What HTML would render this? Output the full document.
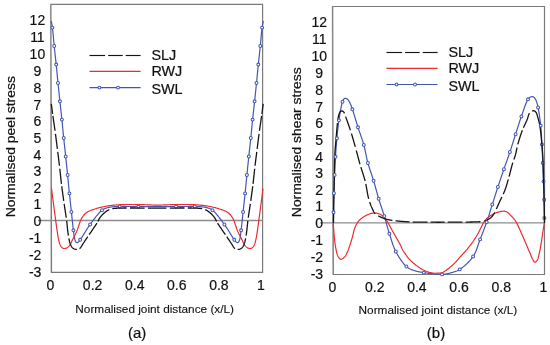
<!DOCTYPE html>
<html lang="en"><head><meta charset="utf-8"><title>Normalised stress distributions</title>
<style>html,body{margin:0;padding:0;background:#fff}body{width:550px;height:345px;overflow:hidden}svg{display:block}</style>
</head><body>
<svg width="550" height="345" viewBox="0 0 550 345">
<rect width="550" height="345" fill="#fff"/>
<path d="M50.9 4.4 L262.6 4.4 L262.6 272.4 L51.5 272.4 Z" fill="none" stroke="#7a7a7a" stroke-width="1.2" stroke-linejoin="miter"/>
<path d="M50.4 4.4 L51.0 272.4" fill="none" stroke="#7a7a7a" stroke-width="0.8" stroke-opacity="0.55"/>
<line x1="38" y1="220.5" x2="262.5" y2="220.5" stroke="#8c8c8c" stroke-width="1.3"/>
<path d="M51.20 21.00 L51.31 21.59 L51.42 22.15 L51.53 22.71 L51.64 23.26 L51.75 23.81 L51.86 24.37 L51.97 24.95 L52.08 25.56 L52.19 26.19 L52.29 26.87 L52.40 27.60 L52.46 28.07 L52.53 28.56 L52.59 29.06 L52.65 29.59 L52.71 30.13 L52.77 30.68 L52.83 31.25 L52.89 31.84 L52.95 32.43 L53.01 33.04 L53.07 33.66 L53.13 34.29 L53.19 34.92 L53.25 35.56 L53.30 36.21 L53.36 36.87 L53.42 37.53 L53.48 38.19 L53.54 38.85 L53.59 39.52 L53.65 40.18 L53.71 40.84 L53.77 41.51 L53.83 42.17 L53.89 42.82 L53.95 43.47 L54.01 44.11 L54.08 44.75 L54.14 45.38 L54.20 46.00 L54.26 46.60 L54.32 47.20 L54.39 47.80 L54.45 48.40 L54.51 49.00 L54.58 49.60 L54.64 50.20 L54.71 50.80 L54.77 51.40 L54.84 52.00 L54.90 52.60 L54.97 53.20 L55.03 53.80 L55.10 54.40 L55.17 55.00 L55.23 55.60 L55.30 56.20 L55.37 56.80 L55.43 57.40 L55.50 58.00 L55.56 58.60 L55.63 59.20 L55.69 59.80 L55.76 60.40 L55.82 61.00 L55.89 61.60 L55.95 62.20 L56.01 62.80 L56.08 63.40 L56.14 64.00 L56.20 64.60 L56.26 65.21 L56.33 65.83 L56.39 66.44 L56.45 67.06 L56.51 67.67 L56.57 68.29 L56.63 68.90 L56.69 69.51 L56.75 70.13 L56.81 70.74 L56.87 71.36 L56.93 71.97 L56.99 72.58 L57.05 73.20 L57.11 73.81 L57.16 74.42 L57.22 75.04 L57.28 75.65 L57.34 76.26 L57.40 76.87 L57.46 77.49 L57.52 78.10 L57.58 78.71 L57.64 79.33 L57.70 79.94 L57.76 80.55 L57.82 81.16 L57.88 81.78 L57.94 82.39 L58.00 83.00 L58.06 83.61 L58.12 84.22 L58.19 84.83 L58.25 85.44 L58.31 86.05 L58.37 86.66 L58.43 87.27 L58.50 87.88 L58.56 88.49 L58.62 89.10 L58.68 89.71 L58.75 90.32 L58.81 90.93 L58.87 91.54 L58.94 92.15 L59.00 92.76 L59.06 93.37 L59.13 93.98 L59.19 94.59 L59.26 95.20 L59.32 95.81 L59.38 96.42 L59.45 97.03 L59.51 97.64 L59.58 98.25 L59.64 98.86 L59.71 99.47 L59.77 100.08 L59.84 100.69 L59.90 101.30 L59.97 101.91 L60.03 102.52 L60.10 103.13 L60.16 103.74 L60.23 104.35 L60.30 104.96 L60.36 105.57 L60.43 106.18 L60.50 106.79 L60.57 107.40 L60.63 108.01 L60.70 108.62 L60.77 109.23 L60.84 109.84 L60.91 110.45 L60.97 111.06 L61.04 111.67 L61.11 112.28 L61.18 112.89 L61.24 113.50 L61.31 114.11 L61.38 114.72 L61.45 115.33 L61.51 115.94 L61.58 116.55 L61.64 117.16 L61.71 117.77 L61.77 118.38 L61.84 118.99 L61.90 119.60 L61.96 120.21 L62.03 120.82 L62.09 121.44 L62.15 122.05 L62.21 122.66 L62.27 123.28 L62.33 123.89 L62.39 124.50 L62.45 125.11 L62.51 125.73 L62.57 126.34 L62.63 126.95 L62.68 127.57 L62.74 128.18 L62.80 128.79 L62.86 129.41 L62.92 130.02 L62.98 130.63 L63.03 131.25 L63.09 131.86 L63.15 132.48 L63.21 133.09 L63.27 133.70 L63.33 134.32 L63.39 134.93 L63.45 135.54 L63.51 136.16 L63.57 136.77 L63.64 137.39 L63.70 138.00 L63.76 138.60 L63.82 139.19 L63.89 139.79 L63.95 140.39 L64.01 140.98 L64.08 141.58 L64.14 142.17 L64.20 142.77 L64.27 143.37 L64.33 143.96 L64.40 144.56 L64.46 145.16 L64.53 145.75 L64.60 146.35 L64.66 146.95 L64.73 147.55 L64.79 148.14 L64.86 148.74 L64.92 149.34 L64.99 149.93 L65.06 150.53 L65.12 151.13 L65.19 151.72 L65.25 152.32 L65.32 152.92 L65.38 153.52 L65.45 154.11 L65.51 154.71 L65.57 155.31 L65.64 155.90 L65.70 156.50 L65.76 157.12 L65.83 157.73 L65.89 158.35 L65.96 158.97 L66.02 159.58 L66.09 160.20 L66.15 160.82 L66.22 161.43 L66.28 162.05 L66.34 162.67 L66.41 163.28 L66.47 163.90 L66.54 164.52 L66.60 165.14 L66.66 165.75 L66.73 166.37 L66.79 166.99 L66.85 167.60 L66.91 168.22 L66.98 168.84 L67.04 169.45 L67.10 170.07 L67.17 170.69 L67.23 171.30 L67.29 171.92 L67.35 172.54 L67.41 173.15 L67.48 173.77 L67.54 174.38 L67.60 175.00 L67.66 175.61 L67.72 176.23 L67.78 176.84 L67.84 177.46 L67.90 178.07 L67.96 178.68 L68.02 179.30 L68.08 179.91 L68.14 180.52 L68.20 181.14 L68.26 181.75 L68.32 182.36 L68.38 182.97 L68.44 183.59 L68.49 184.20 L68.55 184.81 L68.61 185.43 L68.67 186.04 L68.73 186.65 L68.79 187.27 L68.85 187.88 L68.91 188.49 L68.97 189.10 L69.03 189.72 L69.09 190.33 L69.15 190.95 L69.21 191.56 L69.27 192.17 L69.34 192.79 L69.40 193.40 L69.46 194.00 L69.52 194.59 L69.59 195.19 L69.65 195.79 L69.71 196.38 L69.77 196.98 L69.84 197.58 L69.90 198.17 L69.97 198.77 L70.03 199.37 L70.10 199.96 L70.16 200.56 L70.22 201.16 L70.29 201.75 L70.35 202.35 L70.42 202.95 L70.49 203.55 L70.55 204.14 L70.62 204.74 L70.68 205.34 L70.75 205.93 L70.81 206.53 L70.88 207.13 L70.94 207.73 L71.01 208.32 L71.07 208.92 L71.14 209.52 L71.21 210.11 L71.27 210.71 L71.34 211.30 L71.40 211.90 L71.47 212.52 L71.53 213.14 L71.60 213.77 L71.67 214.40 L71.73 215.04 L71.80 215.68 L71.87 216.33 L71.93 216.98 L72.00 217.62 L72.07 218.27 L72.13 218.92 L72.20 219.57 L72.27 220.21 L72.33 220.86 L72.40 221.50 L72.47 222.14 L72.54 222.77 L72.60 223.40 L72.67 224.02 L72.74 224.64 L72.80 225.25 L72.87 225.85 L72.94 226.44 L73.00 227.03 L73.07 227.60 L73.13 228.16 L73.20 228.72 L73.27 229.26 L73.33 229.79 L73.40 230.30 L73.49 231.02 L73.57 231.73 L73.65 232.43 L73.73 233.12 L73.81 233.79 L73.88 234.46 L73.96 235.10 L74.04 235.73 L74.12 236.34 L74.21 236.93 L74.31 237.50 L74.41 238.04 L74.53 238.56 L74.66 239.04 L74.80 239.50 L75.09 240.32 L75.39 241.10 L75.73 241.78 L76.09 242.30 L76.50 242.60 L77.07 242.62 L77.70 242.37 L78.30 242.00 L78.77 241.62 L79.20 241.14 L79.65 240.54 L80.20 239.80 L80.41 239.51 L80.64 239.18 L80.88 238.83 L81.14 238.45 L81.40 238.05 L81.68 237.62 L81.97 237.17 L82.26 236.69 L82.57 236.20 L82.89 235.69 L83.21 235.17 L83.54 234.63 L83.88 234.08 L84.22 233.52 L84.57 232.95 L84.93 232.38 L85.29 231.80 L85.65 231.21 L86.02 230.62 L86.39 230.03 L86.76 229.45 L87.13 228.86 L87.51 228.28 L87.88 227.71 L88.26 227.15 L88.63 226.59 L89.00 226.05 L89.37 225.52 L89.74 225.00 L90.10 224.50 L90.46 224.01 L90.82 223.52 L91.19 223.02 L91.56 222.51 L91.94 221.99 L92.32 221.47 L92.70 220.95 L93.09 220.42 L93.48 219.89 L93.88 219.36 L94.27 218.83 L94.67 218.31 L95.07 217.79 L95.47 217.27 L95.87 216.75 L96.27 216.25 L96.67 215.75 L97.07 215.26 L97.47 214.78 L97.86 214.31 L98.26 213.85 L98.65 213.41 L99.04 212.98 L99.43 212.56 L99.81 212.17 L100.19 211.79 L100.56 211.43 L100.93 211.09 L101.29 210.77 L101.65 210.47 L102.00 210.20 L102.63 209.75 L103.26 209.37 L103.87 209.04 L104.47 208.76 L105.07 208.51 L105.66 208.30 L106.25 208.11 L106.83 207.93 L107.42 207.77 L108.00 207.60 L108.63 207.43 L109.25 207.29 L109.86 207.18 L110.47 207.08 L111.08 207.00 L111.70 206.93 L112.34 206.87 L113.00 206.80 L113.56 206.75 L114.11 206.70 L114.66 206.66 L115.22 206.63 L115.79 206.60 L116.37 206.58 L116.97 206.56 L117.60 206.54 L118.26 206.53 L118.96 206.51 L119.70 206.50 L120.16 206.49 L120.64 206.49 L121.14 206.48 L121.66 206.48 L122.19 206.47 L122.74 206.47 L123.30 206.47 L123.88 206.47 L124.46 206.47 L125.06 206.48 L125.67 206.48 L126.29 206.48 L126.91 206.49 L127.55 206.49 L128.19 206.50 L128.83 206.51 L129.48 206.51 L130.13 206.52 L130.79 206.53 L131.45 206.53 L132.10 206.54 L132.76 206.55 L133.42 206.56 L134.07 206.56 L134.72 206.57 L135.37 206.58 L136.01 206.58 L136.64 206.59 L137.27 206.59 L137.89 206.60 L138.50 206.60 L139.11 206.60 L139.71 206.61 L140.32 206.61 L140.92 206.61 L141.53 206.62 L142.13 206.62 L142.74 206.63 L143.34 206.63 L143.95 206.64 L144.55 206.64 L145.16 206.64 L145.76 206.65 L146.36 206.65 L146.97 206.66 L147.57 206.66 L148.18 206.66 L148.78 206.67 L149.39 206.67 L149.99 206.68 L150.60 206.68 L151.20 206.68 L151.81 206.69 L152.41 206.69 L153.02 206.69 L153.62 206.69 L154.23 206.70 L154.83 206.70 L155.44 206.70 L156.04 206.70 L156.65 206.70 L157.25 206.70 L157.85 206.70 L158.46 206.70 L159.06 206.70 L159.67 206.70 L160.27 206.70 L160.88 206.69 L161.48 206.69 L162.09 206.69 L162.69 206.69 L163.30 206.68 L163.90 206.68 L164.51 206.68 L165.11 206.67 L165.72 206.67 L166.32 206.66 L166.93 206.66 L167.53 206.66 L168.14 206.65 L168.74 206.65 L169.34 206.64 L169.95 206.64 L170.55 206.64 L171.16 206.63 L171.76 206.63 L172.37 206.62 L172.97 206.62 L173.58 206.61 L174.18 206.61 L174.79 206.61 L175.39 206.60 L176.00 206.60 L176.61 206.60 L177.23 206.59 L177.86 206.59 L178.49 206.58 L179.13 206.58 L179.78 206.57 L180.43 206.56 L181.08 206.56 L181.74 206.55 L182.40 206.54 L183.05 206.53 L183.71 206.53 L184.37 206.52 L185.02 206.51 L185.67 206.51 L186.31 206.50 L186.95 206.49 L187.59 206.49 L188.21 206.48 L188.83 206.48 L189.44 206.48 L190.04 206.47 L190.62 206.47 L191.20 206.47 L191.76 206.47 L192.31 206.47 L192.84 206.48 L193.36 206.48 L193.86 206.49 L194.34 206.49 L194.80 206.50 L195.54 206.51 L196.24 206.53 L196.90 206.54 L197.53 206.56 L198.13 206.58 L198.71 206.60 L199.28 206.63 L199.84 206.66 L200.39 206.70 L200.94 206.75 L201.50 206.80 L202.16 206.87 L202.80 206.93 L203.42 207.00 L204.03 207.08 L204.64 207.18 L205.25 207.29 L205.87 207.43 L206.50 207.60 L207.08 207.77 L207.67 207.93 L208.25 208.11 L208.84 208.30 L209.43 208.51 L210.03 208.76 L210.63 209.04 L211.24 209.37 L211.87 209.75 L212.50 210.20 L212.85 210.47 L213.21 210.77 L213.57 211.09 L213.94 211.43 L214.31 211.79 L214.69 212.17 L215.07 212.56 L215.46 212.98 L215.85 213.41 L216.24 213.85 L216.64 214.31 L217.03 214.78 L217.43 215.26 L217.83 215.75 L218.23 216.25 L218.63 216.75 L219.03 217.27 L219.43 217.79 L219.83 218.31 L220.23 218.83 L220.62 219.36 L221.02 219.89 L221.41 220.42 L221.80 220.95 L222.18 221.47 L222.56 221.99 L222.94 222.51 L223.31 223.02 L223.68 223.52 L224.04 224.01 L224.40 224.50 L224.76 225.00 L225.13 225.52 L225.50 226.05 L225.87 226.59 L226.24 227.15 L226.62 227.71 L226.99 228.28 L227.37 228.86 L227.74 229.45 L228.11 230.03 L228.48 230.62 L228.85 231.21 L229.21 231.80 L229.57 232.38 L229.93 232.95 L230.28 233.52 L230.62 234.08 L230.96 234.63 L231.29 235.17 L231.61 235.69 L231.93 236.20 L232.24 236.69 L232.53 237.17 L232.82 237.62 L233.10 238.05 L233.36 238.45 L233.62 238.83 L233.86 239.18 L234.09 239.51 L234.30 239.80 L234.85 240.54 L235.30 241.14 L235.73 241.62 L236.20 242.00 L236.80 242.37 L237.43 242.62 L238.00 242.60 L238.41 242.30 L238.77 241.78 L239.11 241.10 L239.41 240.32 L239.70 239.50 L239.84 239.04 L239.97 238.56 L240.09 238.04 L240.19 237.50 L240.29 236.93 L240.38 236.34 L240.46 235.73 L240.54 235.10 L240.62 234.46 L240.69 233.79 L240.77 233.12 L240.85 232.43 L240.93 231.73 L241.01 231.02 L241.10 230.30 L241.17 229.79 L241.23 229.26 L241.30 228.72 L241.37 228.16 L241.43 227.60 L241.50 227.03 L241.56 226.44 L241.63 225.85 L241.70 225.25 L241.76 224.64 L241.83 224.02 L241.90 223.40 L241.96 222.77 L242.03 222.14 L242.10 221.50 L242.17 220.86 L242.23 220.21 L242.30 219.57 L242.37 218.92 L242.43 218.27 L242.50 217.62 L242.57 216.98 L242.63 216.33 L242.70 215.68 L242.77 215.04 L242.83 214.40 L242.90 213.77 L242.97 213.14 L243.03 212.52 L243.10 211.90 L243.16 211.30 L243.23 210.71 L243.29 210.11 L243.36 209.52 L243.43 208.92 L243.49 208.32 L243.56 207.73 L243.62 207.13 L243.69 206.53 L243.75 205.93 L243.82 205.34 L243.88 204.74 L243.95 204.14 L244.01 203.55 L244.08 202.95 L244.15 202.35 L244.21 201.75 L244.28 201.16 L244.34 200.56 L244.40 199.96 L244.47 199.37 L244.53 198.77 L244.60 198.17 L244.66 197.58 L244.73 196.98 L244.79 196.38 L244.85 195.79 L244.91 195.19 L244.98 194.59 L245.04 194.00 L245.10 193.40 L245.16 192.79 L245.23 192.17 L245.29 191.56 L245.35 190.95 L245.41 190.33 L245.47 189.72 L245.53 189.10 L245.59 188.49 L245.65 187.88 L245.71 187.27 L245.77 186.65 L245.83 186.04 L245.89 185.43 L245.95 184.81 L246.01 184.20 L246.06 183.59 L246.12 182.97 L246.18 182.36 L246.24 181.75 L246.30 181.14 L246.36 180.52 L246.42 179.91 L246.48 179.30 L246.54 178.68 L246.60 178.07 L246.66 177.46 L246.72 176.84 L246.78 176.23 L246.84 175.61 L246.90 175.00 L246.96 174.38 L247.02 173.77 L247.09 173.15 L247.15 172.54 L247.21 171.92 L247.27 171.30 L247.33 170.69 L247.40 170.07 L247.46 169.45 L247.52 168.84 L247.59 168.22 L247.65 167.60 L247.71 166.99 L247.77 166.37 L247.84 165.75 L247.90 165.14 L247.96 164.52 L248.03 163.90 L248.09 163.28 L248.16 162.67 L248.22 162.05 L248.28 161.43 L248.35 160.82 L248.41 160.20 L248.48 159.58 L248.54 158.97 L248.61 158.35 L248.67 157.73 L248.74 157.12 L248.80 156.50 L248.86 155.90 L248.93 155.31 L248.99 154.71 L249.05 154.11 L249.12 153.52 L249.18 152.92 L249.25 152.32 L249.31 151.72 L249.38 151.13 L249.44 150.53 L249.51 149.93 L249.58 149.34 L249.64 148.74 L249.71 148.14 L249.77 147.55 L249.84 146.95 L249.90 146.35 L249.97 145.75 L250.04 145.16 L250.10 144.56 L250.17 143.96 L250.23 143.37 L250.30 142.77 L250.36 142.17 L250.42 141.58 L250.49 140.98 L250.55 140.39 L250.61 139.79 L250.68 139.19 L250.74 138.60 L250.80 138.00 L250.86 137.39 L250.93 136.77 L250.99 136.16 L251.05 135.54 L251.11 134.93 L251.17 134.32 L251.23 133.70 L251.29 133.09 L251.35 132.48 L251.41 131.86 L251.47 131.25 L251.52 130.63 L251.58 130.02 L251.64 129.41 L251.70 128.79 L251.76 128.18 L251.82 127.57 L251.87 126.95 L251.93 126.34 L251.99 125.73 L252.05 125.11 L252.11 124.50 L252.17 123.89 L252.23 123.28 L252.29 122.66 L252.35 122.05 L252.41 121.44 L252.47 120.82 L252.54 120.21 L252.60 119.60 L252.66 118.99 L252.73 118.38 L252.79 117.77 L252.86 117.16 L252.92 116.55 L252.99 115.94 L253.05 115.33 L253.12 114.72 L253.19 114.11 L253.26 113.50 L253.32 112.89 L253.39 112.28 L253.46 111.67 L253.53 111.06 L253.59 110.45 L253.66 109.84 L253.73 109.23 L253.80 108.62 L253.87 108.01 L253.93 107.40 L254.00 106.79 L254.07 106.18 L254.14 105.57 L254.20 104.96 L254.27 104.35 L254.34 103.74 L254.40 103.13 L254.47 102.52 L254.53 101.91 L254.60 101.30 L254.66 100.69 L254.73 100.08 L254.79 99.47 L254.86 98.86 L254.92 98.25 L254.99 97.64 L255.05 97.03 L255.12 96.42 L255.18 95.81 L255.24 95.20 L255.31 94.59 L255.37 93.98 L255.44 93.37 L255.50 92.76 L255.56 92.15 L255.63 91.54 L255.69 90.93 L255.75 90.32 L255.82 89.71 L255.88 89.10 L255.94 88.49 L256.00 87.88 L256.07 87.27 L256.13 86.66 L256.19 86.05 L256.25 85.44 L256.31 84.83 L256.38 84.22 L256.44 83.61 L256.50 83.00 L256.56 82.39 L256.62 81.78 L256.68 81.16 L256.74 80.55 L256.80 79.94 L256.86 79.33 L256.92 78.71 L256.98 78.10 L257.04 77.49 L257.10 76.87 L257.16 76.26 L257.22 75.65 L257.28 75.04 L257.34 74.42 L257.39 73.81 L257.45 73.20 L257.51 72.58 L257.57 71.97 L257.63 71.36 L257.69 70.74 L257.75 70.13 L257.81 69.51 L257.87 68.90 L257.93 68.29 L257.99 67.67 L258.05 67.06 L258.11 66.44 L258.17 65.83 L258.24 65.21 L258.30 64.60 L258.36 64.00 L258.42 63.40 L258.49 62.80 L258.55 62.20 L258.61 61.60 L258.68 61.00 L258.74 60.40 L258.81 59.80 L258.87 59.20 L258.94 58.60 L259.00 58.00 L259.07 57.40 L259.13 56.80 L259.20 56.20 L259.27 55.60 L259.33 55.00 L259.40 54.40 L259.47 53.80 L259.53 53.20 L259.60 52.60 L259.66 52.00 L259.73 51.40 L259.79 50.80 L259.86 50.20 L259.92 49.60 L259.99 49.00 L260.05 48.40 L260.11 47.80 L260.18 47.20 L260.24 46.60 L260.30 46.00 L260.36 45.38 L260.42 44.75 L260.49 44.11 L260.55 43.47 L260.61 42.82 L260.67 42.17 L260.73 41.51 L260.79 40.84 L260.85 40.18 L260.91 39.52 L260.96 38.85 L261.02 38.19 L261.08 37.53 L261.14 36.87 L261.20 36.21 L261.25 35.56 L261.31 34.92 L261.37 34.29 L261.43 33.66 L261.49 33.04 L261.55 32.43 L261.61 31.84 L261.67 31.25 L261.73 30.68 L261.79 30.13 L261.85 29.59 L261.91 29.06 L261.97 28.56 L262.04 28.07 L262.10 27.60 L262.21 26.87 L262.31 26.19 L262.42 25.56 L262.53 24.95 L262.64 24.37 L262.75 23.81 L262.86 23.26 L262.97 22.71 L263.08 22.15 L263.19 21.59 L263.30 21.00" fill="none" stroke="#4257b2" stroke-width="1.2" stroke-linejoin="round"/>
<circle cx="52.4" cy="27.6" r="1.45" fill="#fff" stroke="#4257b2" stroke-width="1.05"/>
<circle cx="54.2" cy="46.0" r="1.45" fill="#fff" stroke="#4257b2" stroke-width="1.05"/>
<circle cx="56.2" cy="64.6" r="1.45" fill="#fff" stroke="#4257b2" stroke-width="1.05"/>
<circle cx="58.0" cy="83.0" r="1.45" fill="#fff" stroke="#4257b2" stroke-width="1.05"/>
<circle cx="59.9" cy="101.3" r="1.45" fill="#fff" stroke="#4257b2" stroke-width="1.05"/>
<circle cx="61.9" cy="119.6" r="1.45" fill="#fff" stroke="#4257b2" stroke-width="1.05"/>
<circle cx="63.7" cy="138.0" r="1.45" fill="#fff" stroke="#4257b2" stroke-width="1.05"/>
<circle cx="65.7" cy="156.5" r="1.45" fill="#fff" stroke="#4257b2" stroke-width="1.05"/>
<circle cx="67.6" cy="175.0" r="1.45" fill="#fff" stroke="#4257b2" stroke-width="1.05"/>
<circle cx="69.4" cy="193.4" r="1.45" fill="#fff" stroke="#4257b2" stroke-width="1.05"/>
<circle cx="71.4" cy="211.9" r="1.45" fill="#fff" stroke="#4257b2" stroke-width="1.05"/>
<circle cx="73.4" cy="230.3" r="1.45" fill="#fff" stroke="#4257b2" stroke-width="1.05"/>
<circle cx="80.2" cy="239.8" r="1.45" fill="#fff" stroke="#4257b2" stroke-width="1.05"/>
<circle cx="90.1" cy="224.5" r="1.45" fill="#fff" stroke="#4257b2" stroke-width="1.05"/>
<circle cx="102.0" cy="210.2" r="1.45" fill="#fff" stroke="#4257b2" stroke-width="1.05"/>
<circle cx="119.7" cy="206.5" r="1.45" fill="#fff" stroke="#4257b2" stroke-width="1.05"/>
<circle cx="138.5" cy="206.6" r="1.45" fill="#fff" stroke="#4257b2" stroke-width="1.05"/>
<circle cx="176.0" cy="206.6" r="1.45" fill="#fff" stroke="#4257b2" stroke-width="1.05"/>
<circle cx="194.8" cy="206.5" r="1.45" fill="#fff" stroke="#4257b2" stroke-width="1.05"/>
<circle cx="212.5" cy="210.2" r="1.45" fill="#fff" stroke="#4257b2" stroke-width="1.05"/>
<circle cx="224.4" cy="224.5" r="1.45" fill="#fff" stroke="#4257b2" stroke-width="1.05"/>
<circle cx="234.3" cy="239.8" r="1.45" fill="#fff" stroke="#4257b2" stroke-width="1.05"/>
<circle cx="241.1" cy="230.3" r="1.45" fill="#fff" stroke="#4257b2" stroke-width="1.05"/>
<circle cx="243.1" cy="211.9" r="1.45" fill="#fff" stroke="#4257b2" stroke-width="1.05"/>
<circle cx="245.1" cy="193.4" r="1.45" fill="#fff" stroke="#4257b2" stroke-width="1.05"/>
<circle cx="246.9" cy="175.0" r="1.45" fill="#fff" stroke="#4257b2" stroke-width="1.05"/>
<circle cx="248.8" cy="156.5" r="1.45" fill="#fff" stroke="#4257b2" stroke-width="1.05"/>
<circle cx="250.8" cy="138.0" r="1.45" fill="#fff" stroke="#4257b2" stroke-width="1.05"/>
<circle cx="252.6" cy="119.6" r="1.45" fill="#fff" stroke="#4257b2" stroke-width="1.05"/>
<circle cx="254.6" cy="101.3" r="1.45" fill="#fff" stroke="#4257b2" stroke-width="1.05"/>
<circle cx="256.5" cy="83.0" r="1.45" fill="#fff" stroke="#4257b2" stroke-width="1.05"/>
<circle cx="258.3" cy="64.6" r="1.45" fill="#fff" stroke="#4257b2" stroke-width="1.05"/>
<circle cx="260.3" cy="46.0" r="1.45" fill="#fff" stroke="#4257b2" stroke-width="1.05"/>
<circle cx="262.1" cy="27.6" r="1.45" fill="#fff" stroke="#4257b2" stroke-width="1.05"/>
<path d="M51.50 188.60 L51.58 189.22 L51.66 189.83 L51.74 190.45 L51.82 191.07 L51.90 191.68 L51.98 192.30 L52.06 192.92 L52.14 193.54 L52.22 194.15 L52.30 194.77 L52.38 195.39 L52.46 196.00 L52.54 196.62 L52.62 197.24 L52.70 197.85 L52.78 198.47 L52.86 199.09 L52.94 199.70 L53.02 200.32 L53.10 200.93 L53.18 201.55 L53.26 202.16 L53.34 202.77 L53.42 203.39 L53.50 204.00 L53.58 204.61 L53.66 205.21 L53.74 205.82 L53.82 206.44 L53.90 207.05 L53.98 207.66 L54.07 208.28 L54.15 208.90 L54.23 209.51 L54.31 210.13 L54.39 210.74 L54.47 211.35 L54.56 211.96 L54.64 212.57 L54.72 213.18 L54.80 213.78 L54.88 214.38 L54.96 214.97 L55.04 215.57 L55.12 216.15 L55.19 216.73 L55.27 217.31 L55.35 217.88 L55.42 218.44 L55.50 219.00 L55.59 219.65 L55.67 220.30 L55.76 220.95 L55.84 221.58 L55.93 222.21 L56.01 222.83 L56.09 223.45 L56.17 224.07 L56.25 224.68 L56.33 225.28 L56.41 225.88 L56.50 226.48 L56.58 227.07 L56.66 227.66 L56.74 228.25 L56.83 228.84 L56.91 229.42 L57.00 230.00 L57.09 230.63 L57.19 231.26 L57.28 231.89 L57.37 232.52 L57.47 233.14 L57.56 233.76 L57.66 234.37 L57.75 234.98 L57.85 235.58 L57.95 236.18 L58.05 236.76 L58.16 237.34 L58.27 237.90 L58.38 238.46 L58.50 239.00 L58.65 239.66 L58.79 240.32 L58.94 240.98 L59.09 241.62 L59.25 242.24 L59.41 242.85 L59.58 243.43 L59.77 243.99 L59.98 244.51 L60.20 245.00 L60.56 245.69 L60.95 246.33 L61.36 246.90 L61.81 247.40 L62.30 247.80 L62.88 248.12 L63.51 248.35 L64.16 248.48 L64.80 248.50 L65.48 248.40 L66.18 248.19 L66.86 247.88 L67.50 247.50 L68.02 247.11 L68.52 246.67 L69.00 246.16 L69.45 245.60 L69.90 245.00 L70.20 244.53 L70.50 244.03 L70.78 243.48 L71.05 242.92 L71.32 242.33 L71.58 241.74 L71.85 241.15 L72.12 240.57 L72.40 240.00 L72.69 239.44 L72.98 238.89 L73.27 238.33 L73.56 237.78 L73.86 237.23 L74.15 236.67 L74.44 236.11 L74.72 235.56 L75.00 235.00 L75.27 234.45 L75.54 233.89 L75.81 233.34 L76.07 232.79 L76.33 232.23 L76.59 231.68 L76.83 231.12 L77.07 230.56 L77.30 230.00 L77.54 229.38 L77.76 228.76 L77.97 228.13 L78.18 227.51 L78.38 226.88 L78.58 226.25 L78.79 225.62 L79.00 225.00 L79.21 224.37 L79.42 223.74 L79.62 223.11 L79.82 222.48 L80.03 221.86 L80.26 221.23 L80.52 220.61 L80.80 220.00 L81.09 219.42 L81.41 218.83 L81.75 218.24 L82.10 217.65 L82.47 217.08 L82.85 216.52 L83.23 215.98 L83.62 215.47 L84.00 215.00 L84.48 214.46 L84.97 213.97 L85.46 213.51 L85.97 213.08 L86.48 212.68 L87.00 212.30 L87.57 211.92 L88.14 211.59 L88.72 211.28 L89.34 210.99 L90.00 210.70 L90.56 210.47 L91.15 210.25 L91.77 210.03 L92.41 209.82 L93.06 209.61 L93.72 209.40 L94.36 209.20 L95.00 209.00 L95.61 208.80 L96.21 208.61 L96.79 208.42 L97.39 208.23 L97.99 208.05 L98.62 207.86 L99.29 207.68 L100.00 207.50 L100.53 207.37 L101.08 207.24 L101.66 207.12 L102.25 206.99 L102.86 206.86 L103.49 206.73 L104.13 206.60 L104.78 206.47 L105.43 206.35 L106.09 206.23 L106.75 206.11 L107.41 206.00 L108.07 205.89 L108.72 205.79 L109.37 205.69 L110.00 205.60 L110.62 205.52 L111.25 205.44 L111.87 205.36 L112.49 205.29 L113.12 205.22 L113.74 205.16 L114.37 205.10 L114.99 205.04 L115.62 204.99 L116.25 204.94 L116.87 204.90 L117.50 204.85 L118.12 204.81 L118.75 204.77 L119.37 204.74 L120.00 204.70 L120.62 204.67 L121.25 204.64 L121.87 204.62 L122.50 204.59 L123.12 204.58 L123.75 204.56 L124.37 204.55 L125.00 204.54 L125.62 204.53 L126.25 204.52 L126.87 204.52 L127.50 204.51 L128.12 204.51 L128.75 204.51 L129.37 204.50 L130.00 204.50 L130.62 204.50 L131.25 204.50 L131.87 204.50 L132.50 204.50 L133.13 204.50 L133.75 204.51 L134.38 204.51 L135.00 204.52 L135.63 204.53 L136.25 204.53 L136.88 204.54 L137.50 204.55 L138.13 204.56 L138.75 204.58 L139.38 204.59 L140.00 204.60 L140.63 204.61 L141.26 204.63 L141.90 204.64 L142.54 204.66 L143.18 204.68 L143.82 204.70 L144.46 204.71 L145.10 204.73 L145.74 204.75 L146.37 204.77 L146.99 204.80 L147.61 204.82 L148.22 204.84 L148.83 204.86 L149.42 204.88 L150.00 204.90 L150.64 204.93 L151.28 204.95 L151.89 204.99 L152.50 205.02 L153.10 205.05 L153.70 205.08 L154.29 205.12 L154.88 205.14 L155.46 205.17 L156.06 205.18 L156.65 205.20 L157.25 205.20 L157.85 205.20 L158.44 205.18 L159.04 205.17 L159.62 205.14 L160.21 205.12 L160.80 205.08 L161.40 205.05 L162.00 205.02 L162.61 204.99 L163.22 204.95 L163.86 204.93 L164.50 204.90 L165.08 204.88 L165.67 204.86 L166.28 204.84 L166.89 204.82 L167.51 204.80 L168.13 204.77 L168.76 204.75 L169.40 204.73 L170.04 204.71 L170.68 204.70 L171.32 204.68 L171.96 204.66 L172.60 204.64 L173.24 204.63 L173.87 204.61 L174.50 204.60 L175.12 204.59 L175.75 204.58 L176.37 204.56 L177.00 204.55 L177.62 204.54 L178.25 204.53 L178.87 204.53 L179.50 204.52 L180.12 204.51 L180.75 204.51 L181.37 204.50 L182.00 204.50 L182.63 204.50 L183.25 204.50 L183.88 204.50 L184.50 204.50 L185.13 204.50 L185.75 204.51 L186.38 204.51 L187.00 204.51 L187.63 204.52 L188.25 204.52 L188.88 204.53 L189.50 204.54 L190.13 204.55 L190.75 204.56 L191.38 204.58 L192.00 204.59 L192.63 204.62 L193.25 204.64 L193.88 204.67 L194.50 204.70 L195.13 204.74 L195.75 204.77 L196.38 204.81 L197.00 204.85 L197.63 204.90 L198.25 204.94 L198.88 204.99 L199.51 205.04 L200.13 205.10 L200.76 205.16 L201.38 205.22 L202.01 205.29 L202.63 205.36 L203.25 205.44 L203.88 205.52 L204.50 205.60 L205.13 205.69 L205.78 205.79 L206.43 205.89 L207.09 206.00 L207.75 206.11 L208.41 206.23 L209.07 206.35 L209.72 206.47 L210.37 206.60 L211.01 206.73 L211.64 206.86 L212.25 206.99 L212.84 207.12 L213.42 207.24 L213.97 207.37 L214.50 207.50 L215.21 207.68 L215.88 207.86 L216.51 208.05 L217.11 208.23 L217.71 208.42 L218.29 208.61 L218.89 208.80 L219.50 209.00 L220.14 209.20 L220.78 209.40 L221.44 209.61 L222.09 209.82 L222.73 210.03 L223.35 210.25 L223.94 210.47 L224.50 210.70 L225.16 210.99 L225.78 211.28 L226.36 211.59 L226.93 211.92 L227.50 212.30 L228.02 212.68 L228.53 213.08 L229.04 213.51 L229.53 213.97 L230.02 214.46 L230.50 215.00 L230.88 215.47 L231.27 215.98 L231.65 216.52 L232.03 217.08 L232.40 217.65 L232.75 218.24 L233.09 218.83 L233.41 219.42 L233.70 220.00 L233.98 220.61 L234.24 221.23 L234.47 221.86 L234.68 222.48 L234.88 223.11 L235.08 223.74 L235.29 224.37 L235.50 225.00 L235.71 225.62 L235.92 226.25 L236.12 226.88 L236.32 227.51 L236.53 228.13 L236.74 228.76 L236.96 229.38 L237.20 230.00 L237.43 230.56 L237.67 231.12 L237.91 231.68 L238.17 232.23 L238.43 232.79 L238.69 233.34 L238.96 233.89 L239.23 234.45 L239.50 235.00 L239.78 235.56 L240.06 236.11 L240.35 236.67 L240.64 237.23 L240.94 237.78 L241.23 238.33 L241.52 238.89 L241.81 239.44 L242.10 240.00 L242.38 240.57 L242.65 241.15 L242.92 241.74 L243.18 242.33 L243.45 242.92 L243.72 243.48 L244.00 244.03 L244.30 244.53 L244.60 245.00 L245.05 245.60 L245.50 246.16 L245.98 246.67 L246.48 247.11 L247.00 247.50 L247.64 247.88 L248.32 248.19 L249.02 248.40 L249.70 248.50 L250.34 248.48 L250.99 248.35 L251.62 248.12 L252.20 247.80 L252.69 247.40 L253.14 246.90 L253.55 246.33 L253.94 245.69 L254.30 245.00 L254.52 244.51 L254.73 243.99 L254.92 243.43 L255.09 242.85 L255.25 242.24 L255.41 241.62 L255.56 240.98 L255.71 240.32 L255.85 239.66 L256.00 239.00 L256.12 238.46 L256.23 237.90 L256.34 237.34 L256.45 236.76 L256.55 236.18 L256.65 235.58 L256.75 234.98 L256.84 234.37 L256.94 233.76 L257.03 233.14 L257.13 232.52 L257.22 231.89 L257.31 231.26 L257.41 230.63 L257.50 230.00 L257.59 229.42 L257.67 228.84 L257.76 228.25 L257.84 227.66 L257.92 227.07 L258.00 226.48 L258.09 225.88 L258.17 225.28 L258.25 224.68 L258.33 224.07 L258.41 223.45 L258.49 222.83 L258.57 222.21 L258.66 221.58 L258.74 220.95 L258.83 220.30 L258.91 219.65 L259.00 219.00 L259.08 218.44 L259.15 217.88 L259.23 217.31 L259.31 216.73 L259.38 216.15 L259.46 215.57 L259.54 214.97 L259.62 214.38 L259.70 213.78 L259.78 213.18 L259.86 212.57 L259.94 211.96 L260.03 211.35 L260.11 210.74 L260.19 210.13 L260.27 209.51 L260.35 208.90 L260.43 208.28 L260.52 207.66 L260.60 207.05 L260.68 206.44 L260.76 205.82 L260.84 205.21 L260.92 204.61 L261.00 204.00 L261.08 203.39 L261.16 202.77 L261.24 202.16 L261.32 201.55 L261.40 200.93 L261.48 200.32 L261.56 199.70 L261.64 199.09 L261.72 198.47 L261.80 197.85 L261.88 197.24 L261.96 196.62 L262.04 196.00 L262.12 195.39 L262.20 194.77 L262.28 194.15 L262.36 193.54 L262.44 192.92 L262.52 192.30 L262.60 191.68 L262.68 191.07 L262.76 190.45 L262.84 189.83 L262.92 189.22 L263.00 188.60" fill="none" stroke="#ee2a30" stroke-width="1.2" stroke-linejoin="round"/>
<path d="M51.30 103.90 L51.38 104.51 L51.46 105.12 L51.54 105.71 L51.61 106.31 L51.69 106.89 L51.76 107.48 L51.84 108.07 L51.92 108.66 L52.00 109.26 L52.07 109.87 L52.16 110.49 L52.24 111.12 L52.32 111.76 L52.41 112.42 L52.50 113.10 L52.60 113.80 M52.90 115.95 L52.98 116.52 L53.06 117.09 L53.15 117.67 L53.23 118.26 L53.32 118.86 L53.41 119.46 L53.49 120.07 L53.58 120.69 L53.67 121.31 L53.77 121.93 L53.86 122.56 L53.95 123.19 L54.04 123.83 L54.13 124.46 L54.23 125.10 L54.32 125.74 L54.41 126.37 L54.50 127.01 L54.59 127.64 L54.68 128.28 L54.77 128.91 L54.86 129.54 L54.95 130.16 L55.03 130.78 M55.44 133.81 L55.52 134.41 L55.60 135.01 L55.68 135.61 L55.76 136.22 L55.84 136.82 L55.92 137.42 L55.99 138.02 L56.07 138.63 L56.15 139.23 L56.22 139.83 L56.30 140.44 L56.38 141.04 L56.45 141.64 L56.53 142.24 L56.60 142.84 L56.68 143.44 L56.75 144.04 L56.83 144.64 L56.90 145.24 L56.98 145.84 L57.05 146.43 L57.13 147.03 L57.20 147.63 L57.28 148.22 L57.35 148.81 M57.73 151.84 L57.81 152.45 L57.88 153.06 L57.96 153.67 L58.04 154.27 L58.11 154.88 L58.19 155.48 L58.27 156.09 L58.34 156.69 L58.42 157.29 L58.49 157.90 L58.57 158.50 L58.64 159.10 L58.72 159.70 L58.79 160.31 L58.87 160.91 L58.94 161.52 L59.02 162.12 L59.09 162.73 L59.16 163.33 L59.24 163.94 L59.31 164.55 L59.38 165.16 L59.46 165.77 M59.80 168.78 L59.87 169.38 L59.94 169.98 L60.00 170.57 L60.07 171.18 L60.14 171.78 L60.20 172.38 L60.26 172.98 L60.33 173.58 L60.39 174.19 L60.46 174.79 L60.52 175.40 L60.59 176.00 L60.65 176.61 L60.72 177.21 L60.78 177.81 L60.85 178.42 L60.91 179.02 L60.98 179.62 L61.04 180.22 L61.11 180.83 L61.18 181.43 L61.25 182.03 L61.32 182.62 L61.39 183.22 L61.46 183.81 M61.75 186.23 L61.83 186.84 L61.91 187.46 L61.99 188.07 L62.07 188.68 L62.15 189.29 L62.23 189.89 L62.31 190.50 L62.39 191.11 L62.47 191.72 L62.55 192.32 L62.63 192.93 L62.72 193.53 L62.80 194.14 L62.88 194.74 L62.97 195.35 L63.05 195.95 L63.13 196.55 L63.22 197.16 L63.30 197.76 L63.39 198.37 L63.47 198.97 L63.56 199.58 L63.64 200.18 L63.73 200.79 M64.16 203.82 L64.25 204.42 L64.34 205.03 L64.43 205.63 L64.52 206.24 L64.61 206.84 L64.70 207.45 L64.79 208.05 L64.88 208.66 L64.98 209.26 L65.07 209.86 L65.16 210.47 L65.25 211.07 L65.34 211.68 L65.43 212.28 L65.53 212.89 L65.62 213.50 L65.71 214.11 L65.80 214.71 L65.88 215.32 L65.97 215.93 L66.06 216.54 L66.15 217.16 L66.23 217.77 M66.63 220.82 L66.71 221.44 L66.78 222.06 L66.85 222.70 L66.92 223.33 L66.99 223.98 L67.06 224.62 L67.13 225.26 L67.20 225.91 L67.27 226.56 L67.34 227.20 L67.41 227.84 L67.48 228.48 L67.55 229.11 L67.61 229.74 L67.68 230.37 L67.75 230.98 L67.83 231.59 L67.90 232.19 L67.97 232.78 L68.04 233.35 L68.12 233.92 L68.19 234.47 L68.27 235.01 L68.35 235.53 M68.87 238.43 L69.00 239.10 L69.13 239.75 L69.27 240.38 L69.41 240.98 L69.55 241.56 L69.70 242.13 L69.86 242.67 L70.03 243.20 L70.21 243.71 L70.40 244.20 L70.70 244.91 L71.00 245.59 L71.33 246.22 L71.68 246.80 L72.07 247.33 L72.50 247.80 L73.04 248.25 L73.65 248.65 L74.28 248.98 L74.91 249.23 L75.50 249.40 L76.19 249.47 L76.85 249.41 M79.50 248.70 L79.85 248.41 L80.20 248.04 L80.55 247.59 L80.91 247.10 L81.27 246.55 L81.63 245.98 L82.00 245.38 L82.37 244.77 L82.75 244.16 L83.12 243.57 L83.50 243.00 L83.84 242.51 L84.18 242.00 L84.52 241.49 L84.87 240.97 L85.22 240.45 L85.58 239.92 L85.93 239.39 L86.29 238.85 L86.64 238.32 L87.00 237.79 L87.35 237.26 L87.70 236.73 M89.12 234.65 L89.47 234.13 L89.83 233.61 L90.19 233.09 L90.54 232.58 L90.90 232.07 L91.25 231.55 L91.60 231.04 L91.95 230.53 L92.30 230.02 L92.65 229.51 L93.00 229.00 L93.37 228.46 L93.74 227.92 L94.12 227.38 L94.49 226.84 L94.87 226.30 L95.24 225.76 L95.61 225.22 L95.97 224.69 L96.32 224.16 L96.66 223.63 L96.99 223.11 M97.93 221.43 L98.21 220.85 L98.47 220.28 L98.74 219.72 L99.01 219.15 L99.31 218.60 L99.63 218.05 L100.00 217.50 L100.34 217.04 L100.71 216.58 L101.10 216.11 L101.51 215.64 L101.93 215.18 L102.36 214.72 L102.80 214.28 L103.24 213.85 L103.69 213.43 L104.13 213.03 L104.57 212.65 L105.00 212.30 L105.53 211.89 L106.07 211.51 L106.61 211.15 L107.15 210.81 L107.69 210.50 L108.23 210.21 L108.77 209.95 L109.30 209.70 M112.31 208.73 L113.00 208.60 L113.54 208.51 L114.12 208.44 L114.71 208.37 L115.32 208.32 L115.95 208.28 L116.60 208.24 L117.26 208.21 L117.94 208.18 L118.62 208.15 L119.31 208.13 L120.00 208.10 L120.57 208.08 L121.15 208.06 L121.74 208.05 L122.33 208.03 L122.94 208.02 L123.55 208.02 L124.16 208.01 L124.78 208.01 L125.41 208.00 L126.05 208.00 L126.69 208.00 M130.00 208.00 L130.56 208.00 L131.13 208.00 L131.71 208.00 L132.30 208.00 L132.89 208.01 L133.49 208.01 L134.10 208.01 L134.71 208.02 L135.33 208.02 L135.94 208.03 L136.57 208.03 L137.19 208.04 L137.81 208.04 L138.44 208.05 L139.07 208.06 L139.69 208.06 L140.32 208.07 L140.94 208.07 L141.56 208.08 L142.18 208.09 L142.79 208.09 L143.40 208.10 L144.00 208.10 L144.61 208.10 M263.20 103.90 L263.12 104.51 L263.04 105.12 L262.96 105.71 L262.89 106.31 L262.81 106.89 L262.74 107.48 L262.66 108.07 L262.58 108.66 L262.50 109.26 L262.43 109.87 L262.34 110.49 L262.26 111.12 L262.18 111.76 L262.09 112.42 L262.00 113.10 L261.90 113.80 M261.60 115.95 L261.52 116.52 L261.44 117.09 L261.35 117.67 L261.27 118.26 L261.18 118.86 L261.09 119.46 L261.01 120.07 L260.92 120.69 L260.83 121.31 L260.73 121.93 L260.64 122.56 L260.55 123.19 L260.46 123.83 L260.37 124.46 L260.27 125.10 L260.18 125.74 L260.09 126.37 L260.00 127.01 L259.91 127.64 L259.82 128.28 L259.73 128.91 L259.64 129.54 L259.55 130.16 L259.47 130.78 M259.06 133.81 L258.98 134.41 L258.90 135.01 L258.82 135.61 L258.74 136.22 L258.66 136.82 L258.58 137.42 L258.51 138.02 L258.43 138.63 L258.35 139.23 L258.28 139.83 L258.20 140.44 L258.12 141.04 L258.05 141.64 L257.97 142.24 L257.90 142.84 L257.82 143.44 L257.75 144.04 L257.67 144.64 L257.60 145.24 L257.52 145.84 L257.45 146.43 L257.37 147.03 L257.30 147.63 L257.22 148.22 L257.15 148.81 M256.77 151.84 L256.69 152.45 L256.62 153.06 L256.54 153.67 L256.46 154.27 L256.39 154.88 L256.31 155.48 L256.23 156.09 L256.16 156.69 L256.08 157.29 L256.01 157.90 L255.93 158.50 L255.86 159.10 L255.78 159.70 L255.71 160.31 L255.63 160.91 L255.56 161.52 L255.48 162.12 L255.41 162.73 L255.34 163.33 L255.26 163.94 L255.19 164.55 L255.12 165.16 L255.04 165.77 M254.70 168.78 L254.63 169.38 L254.56 169.98 L254.50 170.57 L254.43 171.18 L254.36 171.78 L254.30 172.38 L254.24 172.98 L254.17 173.58 L254.11 174.19 L254.04 174.79 L253.98 175.40 L253.91 176.00 L253.85 176.61 L253.78 177.21 L253.72 177.81 L253.65 178.42 L253.59 179.02 L253.52 179.62 L253.46 180.22 L253.39 180.83 L253.32 181.43 L253.25 182.03 L253.18 182.62 L253.11 183.22 L253.04 183.81 M252.75 186.23 L252.67 186.84 L252.59 187.46 L252.51 188.07 L252.43 188.68 L252.35 189.29 L252.27 189.89 L252.19 190.50 L252.11 191.11 L252.03 191.72 L251.95 192.32 L251.87 192.93 L251.78 193.53 L251.70 194.14 L251.62 194.74 L251.53 195.35 L251.45 195.95 L251.37 196.55 L251.28 197.16 L251.20 197.76 L251.11 198.37 L251.03 198.97 L250.94 199.58 L250.86 200.18 L250.77 200.79 M250.34 203.82 L250.25 204.42 L250.16 205.03 L250.07 205.63 L249.98 206.24 L249.89 206.84 L249.80 207.45 L249.71 208.05 L249.62 208.66 L249.52 209.26 L249.43 209.86 L249.34 210.47 L249.25 211.07 L249.16 211.68 L249.07 212.28 L248.97 212.89 L248.88 213.50 L248.79 214.11 L248.70 214.71 L248.62 215.32 L248.53 215.93 L248.44 216.54 L248.35 217.16 L248.27 217.77 M247.87 220.82 L247.79 221.44 L247.72 222.06 L247.65 222.70 L247.58 223.33 L247.51 223.98 L247.44 224.62 L247.37 225.26 L247.30 225.91 L247.23 226.56 L247.16 227.20 L247.09 227.84 L247.02 228.48 L246.95 229.11 L246.89 229.74 L246.82 230.37 L246.75 230.98 L246.67 231.59 L246.60 232.19 L246.53 232.78 L246.46 233.35 L246.38 233.92 L246.31 234.47 L246.23 235.01 L246.15 235.53 M245.63 238.43 L245.50 239.10 L245.37 239.75 L245.23 240.38 L245.09 240.98 L244.95 241.56 L244.80 242.13 L244.64 242.67 L244.47 243.20 L244.29 243.71 L244.10 244.20 L243.80 244.91 L243.50 245.59 L243.17 246.22 L242.82 246.80 L242.43 247.33 L242.00 247.80 L241.46 248.25 L240.85 248.65 L240.22 248.98 L239.59 249.23 L239.00 249.40 L238.31 249.47 L237.65 249.41 M235.00 248.70 L234.65 248.41 L234.30 248.04 L233.95 247.59 L233.59 247.10 L233.23 246.55 L232.87 245.98 L232.50 245.38 L232.13 244.77 L231.75 244.16 L231.38 243.57 L231.00 243.00 L230.66 242.51 L230.32 242.00 L229.98 241.49 L229.63 240.97 L229.28 240.45 L228.92 239.92 L228.57 239.39 L228.21 238.85 L227.86 238.32 L227.50 237.79 L227.15 237.26 L226.80 236.73 M225.38 234.65 L225.03 234.13 L224.67 233.61 L224.31 233.09 L223.96 232.58 L223.60 232.07 L223.25 231.55 L222.90 231.04 L222.55 230.53 L222.20 230.02 L221.85 229.51 L221.50 229.00 L221.13 228.46 L220.76 227.92 L220.38 227.38 L220.01 226.84 L219.63 226.30 L219.26 225.76 L218.89 225.22 L218.53 224.69 L218.18 224.16 L217.84 223.63 L217.51 223.11 M216.57 221.43 L216.29 220.85 L216.03 220.28 L215.76 219.72 L215.49 219.15 L215.19 218.60 L214.87 218.05 L214.50 217.50 L214.16 217.04 L213.79 216.58 L213.40 216.11 L212.99 215.64 L212.57 215.18 L212.14 214.72 L211.70 214.28 L211.26 213.85 L210.81 213.43 L210.37 213.03 L209.93 212.65 L209.50 212.30 L208.97 211.89 L208.43 211.51 L207.89 211.15 L207.35 210.81 L206.81 210.50 L206.27 210.21 L205.73 209.95 L205.20 209.70 M202.19 208.73 L201.50 208.60 L200.96 208.51 L200.38 208.44 L199.79 208.37 L199.18 208.32 L198.55 208.28 L197.90 208.24 L197.24 208.21 L196.56 208.18 L195.88 208.15 L195.19 208.13 L194.50 208.10 L193.93 208.08 L193.35 208.06 L192.76 208.05 L192.17 208.03 L191.56 208.02 L190.95 208.02 L190.34 208.01 L189.72 208.01 L189.09 208.00 L188.45 208.00 L187.81 208.00 M184.50 208.00 L183.94 208.00 L183.37 208.00 L182.79 208.00 L182.20 208.00 L181.61 208.01 L181.01 208.01 L180.40 208.01 L179.79 208.02 L179.17 208.02 L178.56 208.03 L177.93 208.03 L177.31 208.04 L176.69 208.04 L176.06 208.05 L175.43 208.06 L174.81 208.06 L174.18 208.07 L173.56 208.07 L172.94 208.08 L172.32 208.09 L171.71 208.09 L171.10 208.10 L170.50 208.10 L169.89 208.10 M148 208.2 L166.4 208.2" fill="none" stroke="#151515" stroke-width="1.3" stroke-linejoin="round"/>
<line x1="89.5" y1="55.5" x2="105.1" y2="55.5" stroke="#151515" stroke-width="1.15"/>
<line x1="108.1" y1="55.5" x2="122.7" y2="55.5" stroke="#151515" stroke-width="1.15"/>
<line x1="125.7" y1="55.5" x2="140.6" y2="55.5" stroke="#151515" stroke-width="1.15"/>
<line x1="89.5" y1="71.4" x2="140.6" y2="71.4" stroke="#ee2a30" stroke-width="1.1"/>
<line x1="89.5" y1="87.6" x2="140.6" y2="87.6" stroke="#4257b2" stroke-width="1.1"/>
<circle cx="99.5" cy="87.6" r="1.45" fill="#fff" stroke="#4257b2" stroke-width="1.05"/>
<circle cx="118" cy="87.6" r="1.45" fill="#fff" stroke="#4257b2" stroke-width="1.05"/>
<text x="151.4" y="59.8" font-size="14.4" text-anchor="start" font-family="&quot;Liberation Sans&quot;, sans-serif" fill="#111" stroke="#111" stroke-width="0.2" >SLJ</text>
<text x="151.4" y="76.3" font-size="14.4" text-anchor="start" font-family="&quot;Liberation Sans&quot;, sans-serif" fill="#111" stroke="#111" stroke-width="0.2" >RWJ</text>
<text x="151.4" y="93.7" font-size="14.4" text-anchor="start" font-family="&quot;Liberation Sans&quot;, sans-serif" fill="#111" stroke="#111" stroke-width="0.2" >SWL</text>
<text x="41.4" y="277.4" font-size="14" text-anchor="end" font-family="&quot;Liberation Sans&quot;, sans-serif" fill="#111" stroke="#111" stroke-width="0.2" >-3</text>
<text x="41.4" y="259.9" font-size="14" text-anchor="end" font-family="&quot;Liberation Sans&quot;, sans-serif" fill="#111" stroke="#111" stroke-width="0.2" >-2</text>
<text x="41.4" y="242.5" font-size="14" text-anchor="end" font-family="&quot;Liberation Sans&quot;, sans-serif" fill="#111" stroke="#111" stroke-width="0.2" >-1</text>
<text x="37.4" y="225.7" font-size="14" text-anchor="middle" font-family="&quot;Liberation Sans&quot;, sans-serif" fill="#111" stroke="#111" stroke-width="0.2" >0</text>
<text x="37.4" y="209.3" font-size="14" text-anchor="middle" font-family="&quot;Liberation Sans&quot;, sans-serif" fill="#111" stroke="#111" stroke-width="0.2" >1</text>
<text x="37.4" y="192.9" font-size="14" text-anchor="middle" font-family="&quot;Liberation Sans&quot;, sans-serif" fill="#111" stroke="#111" stroke-width="0.2" >2</text>
<text x="37.4" y="176.4" font-size="14" text-anchor="middle" font-family="&quot;Liberation Sans&quot;, sans-serif" fill="#111" stroke="#111" stroke-width="0.2" >3</text>
<text x="37.4" y="159.8" font-size="14" text-anchor="middle" font-family="&quot;Liberation Sans&quot;, sans-serif" fill="#111" stroke="#111" stroke-width="0.2" >4</text>
<text x="37.4" y="143.2" font-size="14" text-anchor="middle" font-family="&quot;Liberation Sans&quot;, sans-serif" fill="#111" stroke="#111" stroke-width="0.2" >5</text>
<text x="37.4" y="126.4" font-size="14" text-anchor="middle" font-family="&quot;Liberation Sans&quot;, sans-serif" fill="#111" stroke="#111" stroke-width="0.2" >6</text>
<text x="37.4" y="109.8" font-size="14" text-anchor="middle" font-family="&quot;Liberation Sans&quot;, sans-serif" fill="#111" stroke="#111" stroke-width="0.2" >7</text>
<text x="37.4" y="93.1" font-size="14" text-anchor="middle" font-family="&quot;Liberation Sans&quot;, sans-serif" fill="#111" stroke="#111" stroke-width="0.2" >8</text>
<text x="37.4" y="76.2" font-size="14" text-anchor="middle" font-family="&quot;Liberation Sans&quot;, sans-serif" fill="#111" stroke="#111" stroke-width="0.2" >9</text>
<text x="37.4" y="59.2" font-size="14" text-anchor="middle" font-family="&quot;Liberation Sans&quot;, sans-serif" fill="#111" stroke="#111" stroke-width="0.2" >10</text>
<text x="37.4" y="41.7" font-size="14" text-anchor="middle" font-family="&quot;Liberation Sans&quot;, sans-serif" fill="#111" stroke="#111" stroke-width="0.2" >11</text>
<text x="37.4" y="24.5" font-size="14" text-anchor="middle" font-family="&quot;Liberation Sans&quot;, sans-serif" fill="#111" stroke="#111" stroke-width="0.2" >12</text>
<text x="50.5" y="289.8" font-size="14" text-anchor="middle" font-family="&quot;Liberation Sans&quot;, sans-serif" fill="#111" stroke="#111" stroke-width="0.2" >0</text>
<text x="92.6" y="289.8" font-size="14" text-anchor="middle" font-family="&quot;Liberation Sans&quot;, sans-serif" fill="#111" stroke="#111" stroke-width="0.2" >0.2</text>
<text x="134.7" y="289.8" font-size="14" text-anchor="middle" font-family="&quot;Liberation Sans&quot;, sans-serif" fill="#111" stroke="#111" stroke-width="0.2" >0.4</text>
<text x="176.8" y="289.8" font-size="14" text-anchor="middle" font-family="&quot;Liberation Sans&quot;, sans-serif" fill="#111" stroke="#111" stroke-width="0.2" >0.6</text>
<text x="218.9" y="289.8" font-size="14" text-anchor="middle" font-family="&quot;Liberation Sans&quot;, sans-serif" fill="#111" stroke="#111" stroke-width="0.2" >0.8</text>
<text x="261.0" y="289.8" font-size="14" text-anchor="middle" font-family="&quot;Liberation Sans&quot;, sans-serif" fill="#111" stroke="#111" stroke-width="0.2" >1</text>
<text x="75.3" y="313.3" font-size="11.8" text-anchor="start" font-family="&quot;Liberation Sans&quot;, sans-serif" fill="#111" stroke="#111" stroke-width="0.12" textLength="158.7" lengthAdjust="spacingAndGlyphs">Normalised joint distance (x/L)</text>
<text x="137.1" y="337.6" font-size="15" text-anchor="middle" font-family="&quot;Liberation Sans&quot;, sans-serif" fill="#111" stroke="#111" stroke-width="0.2" >(a)</text>
<text transform="translate(15,146.75) rotate(-90)" font-size="13.7" text-anchor="middle" font-family="&quot;Liberation Sans&quot;, sans-serif" fill="#111" stroke="#111" stroke-width="0.2" textLength="141.2" lengthAdjust="spacingAndGlyphs">Normalised peel stress</text>
<path d="M332.7 6.5 L544.5 6.5 L544.5 274.5 L333.3 274.5 Z" fill="none" stroke="#7a7a7a" stroke-width="1.2" stroke-linejoin="miter"/>
<path d="M332.2 6.5 L332.8 274.5" fill="none" stroke="#7a7a7a" stroke-width="0.8" stroke-opacity="0.55"/>
<line x1="320" y1="222.9" x2="544.5" y2="222.9" stroke="#8c8c8c" stroke-width="1.35"/>
<path d="M333.40 222.90 L333.41 222.28 L333.41 221.67 L333.42 221.07 L333.42 220.47 L333.42 219.88 L333.43 219.28 L333.43 218.69 L333.44 218.09 L333.44 217.49 L333.45 216.89 L333.45 216.27 L333.46 215.64 L333.46 215.01 L333.47 214.36 L333.48 213.69 L333.49 213.00 L333.50 212.30 L333.51 211.77 L333.52 211.22 L333.53 210.67 L333.53 210.11 L333.54 209.53 L333.55 208.95 L333.56 208.36 L333.57 207.76 L333.58 207.15 L333.60 206.54 L333.61 205.92 L333.62 205.29 L333.63 204.66 L333.64 204.03 L333.65 203.39 L333.67 202.75 L333.68 202.11 L333.69 201.47 L333.71 200.82 L333.72 200.17 L333.74 199.53 L333.75 198.88 L333.77 198.24 L333.78 197.60 L333.80 196.96 L333.81 196.32 L333.83 195.68 L333.85 195.06 L333.86 194.43 L333.88 193.81 L333.90 193.20 L333.92 192.58 L333.94 191.97 L333.96 191.35 L333.98 190.74 L334.00 190.13 L334.02 189.51 L334.04 188.90 L334.06 188.29 L334.08 187.68 L334.10 187.07 L334.13 186.46 L334.15 185.85 L334.17 185.24 L334.19 184.63 L334.22 184.02 L334.24 183.41 L334.27 182.80 L334.29 182.19 L334.32 181.59 L334.34 180.98 L334.37 180.37 L334.39 179.76 L334.42 179.15 L334.44 178.55 L334.47 177.94 L334.49 177.33 L334.52 176.72 L334.55 176.12 L334.57 175.51 L334.60 174.90 L334.63 174.30 L334.65 173.69 L334.68 173.09 L334.71 172.48 L334.73 171.88 L334.76 171.28 L334.79 170.67 L334.81 170.07 L334.84 169.47 L334.87 168.87 L334.89 168.26 L334.92 167.66 L334.95 167.06 L334.98 166.46 L335.01 165.85 L335.04 165.25 L335.07 164.65 L335.10 164.05 L335.13 163.45 L335.16 162.84 L335.19 162.24 L335.22 161.64 L335.25 161.03 L335.29 160.43 L335.32 159.83 L335.35 159.22 L335.39 158.62 L335.43 158.01 L335.46 157.41 L335.50 156.80 L335.54 156.19 L335.58 155.57 L335.62 154.96 L335.66 154.34 L335.70 153.72 L335.74 153.11 L335.78 152.49 L335.82 151.87 L335.86 151.25 L335.91 150.64 L335.95 150.02 L335.99 149.40 L336.04 148.78 L336.08 148.16 L336.13 147.54 L336.18 146.93 L336.22 146.31 L336.27 145.69 L336.32 145.07 L336.37 144.45 L336.42 143.84 L336.47 143.22 L336.52 142.60 L336.57 141.98 L336.62 141.37 L336.68 140.75 L336.73 140.14 L336.79 139.53 L336.84 138.91 L336.90 138.30 L336.96 137.70 L337.01 137.09 L337.07 136.49 L337.12 135.89 L337.18 135.29 L337.24 134.69 L337.29 134.08 L337.35 133.48 L337.41 132.89 L337.47 132.29 L337.52 131.69 L337.58 131.09 L337.64 130.49 L337.71 129.89 L337.77 129.29 L337.83 128.70 L337.90 128.10 L337.96 127.50 L338.03 126.90 L338.10 126.30 L338.17 125.70 L338.24 125.11 L338.32 124.51 L338.39 123.91 L338.47 123.31 L338.55 122.71 L338.64 122.11 L338.72 121.50 L338.81 120.90 L338.90 120.30 L338.99 119.69 L339.09 119.07 L339.19 118.44 L339.29 117.79 L339.39 117.13 L339.50 116.46 L339.60 115.78 L339.72 115.10 L339.83 114.41 L339.94 113.73 L340.06 113.04 L340.18 112.35 L340.29 111.66 L340.41 110.98 L340.54 110.30 L340.66 109.64 L340.78 108.98 L340.90 108.33 L341.03 107.70 L341.15 107.08 L341.28 106.47 L341.40 105.89 L341.53 105.32 L341.65 104.77 L341.77 104.25 L341.90 103.76 L342.02 103.28 L342.14 102.84 L342.26 102.43 L342.38 102.05 L342.50 101.70 L342.78 100.92 L343.05 100.27 L343.33 99.72 L343.64 99.27 L344.00 98.90 L344.56 98.54 L345.18 98.32 L345.80 98.30 L346.35 98.48 L346.92 98.82 L347.48 99.28 L348.00 99.80 L348.35 100.21 L348.69 100.68 L349.01 101.19 L349.32 101.74 L349.62 102.31 L349.91 102.90 L350.20 103.50 L350.44 104.01 L350.66 104.51 L350.87 105.03 L351.08 105.55 L351.28 106.10 L351.49 106.67 L351.70 107.27 L351.92 107.91 L352.15 108.58 L352.40 109.30 L352.55 109.73 L352.70 110.18 L352.85 110.65 L353.01 111.13 L353.17 111.64 L353.34 112.16 L353.51 112.69 L353.68 113.24 L353.85 113.80 L354.03 114.37 L354.21 114.96 L354.39 115.55 L354.58 116.15 L354.76 116.76 L354.95 117.38 L355.14 118.00 L355.33 118.63 L355.52 119.26 L355.71 119.89 L355.90 120.52 L356.10 121.16 L356.29 121.79 L356.48 122.42 L356.67 123.05 L356.87 123.68 L357.06 124.30 L357.25 124.92 L357.44 125.53 L357.63 126.13 L357.81 126.72 L358.00 127.30 L358.19 127.89 L358.38 128.48 L358.58 129.07 L358.77 129.66 L358.97 130.24 L359.17 130.83 L359.37 131.41 L359.57 132.00 L359.78 132.58 L359.98 133.17 L360.18 133.75 L360.38 134.33 L360.59 134.92 L360.79 135.50 L360.99 136.08 L361.19 136.67 L361.39 137.25 L361.59 137.84 L361.79 138.42 L361.98 139.01 L362.18 139.59 L362.37 140.18 L362.56 140.77 L362.75 141.35 L362.93 141.94 L363.11 142.53 L363.29 143.12 L363.46 143.71 L363.63 144.31 L363.80 144.90 L363.96 145.50 L364.12 146.09 L364.27 146.69 L364.42 147.29 L364.56 147.89 L364.70 148.50 L364.84 149.10 L364.97 149.70 L365.11 150.31 L365.23 150.91 L365.36 151.52 L365.49 152.12 L365.61 152.73 L365.73 153.34 L365.86 153.95 L365.98 154.55 L366.10 155.16 L366.23 155.77 L366.35 156.37 L366.48 156.98 L366.61 157.59 L366.74 158.19 L366.87 158.80 L367.01 159.40 L367.14 160.00 L367.29 160.60 L367.43 161.20 L367.58 161.80 L367.74 162.40 L367.90 163.00 L368.07 163.60 L368.23 164.19 L368.41 164.79 L368.58 165.38 L368.76 165.97 L368.95 166.56 L369.13 167.15 L369.32 167.74 L369.51 168.33 L369.70 168.92 L369.90 169.51 L370.09 170.10 L370.29 170.69 L370.49 171.27 L370.69 171.86 L370.89 172.45 L371.09 173.04 L371.29 173.62 L371.49 174.21 L371.69 174.80 L371.88 175.39 L372.08 175.97 L372.28 176.56 L372.47 177.15 L372.67 177.74 L372.86 178.33 L373.05 178.92 L373.23 179.51 L373.42 180.11 L373.60 180.70 L373.77 181.28 L373.95 181.86 L374.12 182.43 L374.28 183.01 L374.45 183.59 L374.62 184.17 L374.78 184.76 L374.95 185.34 L375.11 185.92 L375.27 186.50 L375.43 187.09 L375.59 187.67 L375.75 188.25 L375.91 188.83 L376.07 189.42 L376.23 190.00 L376.39 190.58 L376.55 191.17 L376.71 191.75 L376.87 192.33 L377.03 192.91 L377.20 193.50 L377.36 194.08 L377.52 194.66 L377.69 195.24 L377.85 195.82 L378.02 196.40 L378.19 196.97 L378.36 197.55 L378.53 198.13 L378.70 198.70 L378.88 199.29 L379.06 199.87 L379.24 200.45 L379.42 201.04 L379.61 201.62 L379.79 202.20 L379.98 202.78 L380.17 203.36 L380.36 203.94 L380.54 204.52 L380.73 205.10 L380.92 205.68 L381.11 206.26 L381.31 206.84 L381.50 207.41 L381.69 207.99 L381.88 208.57 L382.07 209.15 L382.26 209.72 L382.45 210.30 L382.64 210.88 L382.83 211.46 L383.02 212.04 L383.20 212.61 L383.39 213.19 L383.57 213.77 L383.76 214.35 L383.94 214.94 L384.12 215.52 L384.30 216.10 L384.48 216.68 L384.65 217.27 L384.83 217.85 L385.00 218.44 L385.17 219.02 L385.33 219.61 L385.50 220.20 L385.67 220.78 L385.83 221.37 L385.99 221.96 L386.16 222.54 L386.32 223.13 L386.48 223.72 L386.64 224.31 L386.81 224.89 L386.97 225.48 L387.13 226.07 L387.30 226.66 L387.46 227.24 L387.63 227.83 L387.80 228.42 L387.97 229.01 L388.14 229.60 L388.31 230.18 L388.49 230.77 L388.66 231.36 L388.84 231.94 L389.03 232.53 L389.21 233.11 L389.40 233.70 L389.59 234.28 L389.77 234.86 L389.95 235.44 L390.13 236.02 L390.31 236.60 L390.50 237.19 L390.68 237.78 L390.86 238.36 L391.04 238.95 L391.22 239.54 L391.40 240.13 L391.59 240.72 L391.77 241.30 L391.96 241.89 L392.15 242.48 L392.35 243.06 L392.54 243.64 L392.74 244.22 L392.95 244.80 L393.16 245.38 L393.37 245.95 L393.58 246.52 L393.81 247.09 L394.03 247.66 L394.27 248.22 L394.51 248.78 L394.75 249.33 L395.00 249.88 L395.26 250.43 L395.53 250.97 L395.80 251.50 L396.09 252.05 L396.38 252.60 L396.68 253.15 L397.00 253.71 L397.31 254.27 L397.64 254.84 L397.97 255.40 L398.31 255.96 L398.65 256.53 L399.00 257.09 L399.35 257.65 L399.70 258.20 L400.06 258.75 L400.43 259.30 L400.80 259.84 L401.17 260.37 L401.54 260.89 L401.91 261.40 L402.29 261.91 L402.66 262.40 L403.04 262.88 L403.42 263.35 L403.80 263.80 L404.17 264.24 L404.55 264.66 L404.92 265.06 L405.30 265.45 L405.67 265.82 L406.03 266.17 L406.40 266.50 L406.93 266.95 L407.46 267.36 L407.98 267.73 L408.51 268.07 L409.04 268.38 L409.56 268.67 L410.09 268.94 L410.63 269.19 L411.17 269.43 L411.72 269.65 L412.27 269.87 L412.84 270.08 L413.41 270.29 L414.00 270.50 L414.56 270.70 L415.12 270.88 L415.69 271.05 L416.26 271.20 L416.83 271.35 L417.42 271.49 L418.00 271.61 L418.60 271.74 L419.21 271.85 L419.82 271.96 L420.45 272.07 L421.09 272.18 L421.74 272.28 L422.41 272.38 L423.10 272.49 L423.80 272.60 L424.32 272.68 L424.87 272.76 L425.43 272.85 L426.00 272.94 L426.59 273.03 L427.20 273.11 L427.81 273.20 L428.44 273.29 L429.07 273.38 L429.72 273.47 L430.37 273.55 L431.02 273.64 L431.68 273.72 L432.34 273.80 L433.00 273.88 L433.66 273.95 L434.32 274.02 L434.98 274.08 L435.63 274.14 L436.27 274.20 L436.91 274.25 L437.54 274.30 L438.16 274.33 L438.77 274.37 L439.36 274.39 L439.95 274.41 L440.51 274.42 L441.06 274.42 L441.59 274.42 L442.10 274.40 L442.79 274.37 L443.45 274.32 L444.09 274.26 L444.71 274.19 L445.32 274.11 L445.91 274.01 L446.49 273.91 L447.06 273.80 L447.62 273.68 L448.18 273.55 L448.74 273.41 L449.29 273.27 L449.86 273.12 L450.42 272.96 L451.00 272.80 L451.59 272.64 L452.17 272.47 L452.75 272.31 L453.33 272.15 L453.90 271.98 L454.47 271.80 L455.04 271.61 L455.62 271.41 L456.19 271.19 L456.76 270.95 L457.34 270.69 L457.92 270.41 L458.51 270.11 L459.10 269.77 L459.70 269.40 L460.12 269.13 L460.54 268.84 L460.97 268.54 L461.41 268.23 L461.86 267.90 L462.31 267.56 L462.76 267.21 L463.22 266.85 L463.69 266.48 L464.15 266.09 L464.62 265.70 L465.08 265.29 L465.55 264.88 L466.02 264.46 L466.49 264.03 L466.95 263.59 L467.41 263.15 L467.87 262.70 L468.32 262.24 L468.76 261.78 L469.20 261.31 L469.64 260.84 L470.06 260.37 L470.48 259.89 L470.89 259.41 L471.29 258.93 L471.67 258.44 L472.05 257.96 L472.41 257.47 L472.76 256.99 L473.10 256.50 L473.43 256.00 L473.75 255.48 L474.06 254.96 L474.35 254.43 L474.64 253.90 L474.91 253.35 L475.18 252.80 L475.43 252.25 L475.68 251.69 L475.92 251.12 L476.15 250.55 L476.38 249.97 L476.60 249.39 L476.81 248.81 L477.02 248.23 L477.23 247.64 L477.43 247.05 L477.63 246.46 L477.83 245.86 L478.03 245.27 L478.23 244.68 L478.43 244.08 L478.63 243.49 L478.83 242.90 L479.03 242.31 L479.24 241.72 L479.45 241.14 L479.66 240.55 L479.88 239.98 L480.10 239.40 L480.33 238.83 L480.55 238.25 L480.78 237.68 L481.01 237.10 L481.24 236.53 L481.46 235.96 L481.69 235.38 L481.92 234.81 L482.14 234.23 L482.37 233.66 L482.59 233.08 L482.82 232.51 L483.04 231.93 L483.26 231.36 L483.49 230.78 L483.71 230.21 L483.93 229.63 L484.15 229.05 L484.37 228.47 L484.59 227.90 L484.81 227.32 L485.02 226.74 L485.24 226.16 L485.45 225.58 L485.66 225.00 L485.87 224.42 L486.08 223.84 L486.29 223.26 L486.50 222.68 L486.70 222.10 L486.90 221.52 L487.10 220.94 L487.30 220.35 L487.50 219.77 L487.69 219.18 L487.88 218.60 L488.07 218.01 L488.26 217.43 L488.45 216.84 L488.64 216.26 L488.83 215.67 L489.01 215.08 L489.19 214.49 L489.38 213.90 L489.56 213.32 L489.74 212.73 L489.93 212.14 L490.11 211.55 L490.29 210.96 L490.47 210.37 L490.65 209.79 L490.83 209.20 L491.01 208.61 L491.19 208.02 L491.38 207.43 L491.56 206.85 L491.74 206.26 L491.93 205.67 L492.11 205.09 L492.30 204.50 L492.49 203.92 L492.67 203.33 L492.86 202.75 L493.04 202.16 L493.23 201.58 L493.41 201.00 L493.60 200.42 L493.78 199.83 L493.97 199.25 L494.15 198.67 L494.34 198.08 L494.52 197.50 L494.71 196.92 L494.89 196.34 L495.08 195.75 L495.26 195.17 L495.45 194.59 L495.64 194.00 L495.82 193.42 L496.01 192.84 L496.20 192.26 L496.38 191.67 L496.57 191.09 L496.76 190.51 L496.95 189.92 L497.14 189.34 L497.33 188.75 L497.52 188.17 L497.71 187.58 L497.90 187.00 L498.09 186.43 L498.28 185.85 L498.47 185.28 L498.66 184.71 L498.85 184.13 L499.04 183.56 L499.23 182.98 L499.42 182.41 L499.61 181.83 L499.81 181.25 L500.00 180.68 L500.19 180.10 L500.39 179.53 L500.58 178.95 L500.78 178.37 L500.97 177.80 L501.16 177.22 L501.36 176.65 L501.56 176.07 L501.75 175.50 L501.95 174.92 L502.14 174.35 L502.34 173.77 L502.53 173.20 L502.73 172.63 L502.92 172.05 L503.12 171.48 L503.31 170.91 L503.51 170.34 L503.70 169.77 L503.90 169.20 L504.10 168.62 L504.30 168.04 L504.50 167.47 L504.70 166.89 L504.90 166.32 L505.10 165.75 L505.30 165.17 L505.50 164.60 L505.71 164.03 L505.91 163.46 L506.11 162.89 L506.31 162.31 L506.51 161.74 L506.72 161.17 L506.92 160.60 L507.12 160.03 L507.32 159.46 L507.52 158.89 L507.72 158.32 L507.92 157.75 L508.12 157.18 L508.32 156.60 L508.52 156.03 L508.72 155.46 L508.92 154.88 L509.12 154.31 L509.31 153.73 L509.51 153.16 L509.71 152.58 L509.90 152.00 L510.09 151.43 L510.28 150.86 L510.47 150.29 L510.65 149.72 L510.84 149.15 L511.03 148.58 L511.21 148.01 L511.40 147.43 L511.58 146.86 L511.76 146.29 L511.95 145.71 L512.13 145.14 L512.31 144.56 L512.49 143.99 L512.68 143.41 L512.86 142.83 L513.04 142.26 L513.22 141.68 L513.40 141.11 L513.59 140.53 L513.77 139.95 L513.95 139.38 L514.13 138.80 L514.31 138.23 L514.50 137.65 L514.68 137.07 L514.86 136.50 L515.05 135.92 L515.23 135.35 L515.41 134.77 L515.60 134.20 L515.79 133.63 L515.97 133.05 L516.15 132.47 L516.34 131.90 L516.52 131.32 L516.70 130.75 L516.89 130.17 L517.07 129.59 L517.25 129.02 L517.43 128.44 L517.62 127.86 L517.80 127.28 L517.98 126.71 L518.16 126.13 L518.35 125.55 L518.53 124.98 L518.72 124.40 L518.90 123.83 L519.09 123.25 L519.27 122.68 L519.46 122.10 L519.65 121.53 L519.84 120.96 L520.03 120.38 L520.22 119.81 L520.41 119.24 L520.61 118.67 L520.80 118.10 L521.00 117.53 L521.20 116.97 L521.40 116.40 L521.61 115.81 L521.82 115.21 L522.03 114.60 L522.25 113.97 L522.46 113.33 L522.68 112.68 L522.90 112.03 L523.13 111.37 L523.35 110.71 L523.58 110.05 L523.80 109.39 L524.03 108.73 L524.26 108.08 L524.49 107.43 L524.72 106.79 L524.94 106.16 L525.17 105.54 L525.40 104.93 L525.63 104.34 L525.85 103.76 L526.07 103.21 L526.30 102.67 L526.52 102.15 L526.74 101.66 L526.95 101.19 L527.17 100.75 L527.38 100.34 L527.59 99.96 L527.80 99.61 L528.00 99.30 L528.51 98.61 L529.01 98.06 L529.50 97.63 L529.99 97.28 L530.50 97.00 L531.20 96.71 L531.90 96.55 L532.60 96.60 L533.10 96.79 L533.61 97.11 L534.10 97.52 L534.57 97.99 L535.00 98.50 L535.32 98.97 L535.62 99.49 L535.88 100.05 L536.13 100.65 L536.36 101.26 L536.58 101.88 L536.80 102.50 L536.99 103.07 L537.17 103.63 L537.33 104.18 L537.49 104.76 L537.64 105.36 L537.79 106.01 L537.94 106.72 L538.10 107.50 L538.18 107.93 L538.27 108.38 L538.36 108.85 L538.45 109.34 L538.54 109.85 L538.63 110.39 L538.72 110.94 L538.82 111.50 L538.91 112.08 L539.00 112.68 L539.10 113.28 L539.19 113.90 L539.29 114.53 L539.38 115.17 L539.48 115.81 L539.57 116.47 L539.66 117.12 L539.75 117.78 L539.84 118.45 L539.93 119.12 L540.02 119.78 L540.10 120.45 L540.19 121.11 L540.27 121.77 L540.35 122.43 L540.42 123.08 L540.50 123.72 L540.57 124.36 L540.64 124.98 L540.70 125.60 L540.76 126.20 L540.82 126.80 L540.87 127.40 L540.93 128.01 L540.98 128.61 L541.03 129.21 L541.07 129.82 L541.12 130.42 L541.16 131.03 L541.20 131.64 L541.24 132.24 L541.28 132.85 L541.32 133.46 L541.36 134.07 L541.39 134.67 L541.43 135.28 L541.46 135.89 L541.49 136.50 L541.52 137.11 L541.55 137.72 L541.59 138.33 L541.62 138.94 L541.65 139.54 L541.68 140.15 L541.71 140.76 L541.74 141.37 L541.77 141.98 L541.80 142.58 L541.83 143.19 L541.87 143.79 L541.90 144.40 L541.93 145.00 L541.97 145.60 L542.00 146.20 L542.03 146.80 L542.06 147.41 L542.10 148.01 L542.13 148.61 L542.16 149.21 L542.19 149.81 L542.22 150.41 L542.25 151.01 L542.28 151.61 L542.31 152.21 L542.34 152.81 L542.37 153.41 L542.39 154.01 L542.42 154.61 L542.45 155.21 L542.48 155.81 L542.51 156.41 L542.53 157.01 L542.56 157.61 L542.59 158.21 L542.62 158.80 L542.64 159.40 L542.67 160.00 L542.70 160.60 L542.72 161.20 L542.75 161.80 L542.77 162.40 L542.80 163.00 L542.83 163.62 L542.85 164.23 L542.88 164.85 L542.90 165.47 L542.93 166.09 L542.95 166.71 L542.98 167.32 L543.00 167.94 L543.02 168.56 L543.05 169.18 L543.07 169.79 L543.09 170.41 L543.12 171.03 L543.14 171.65 L543.16 172.26 L543.18 172.88 L543.21 173.50 L543.23 174.11 L543.25 174.73 L543.27 175.35 L543.30 175.96 L543.32 176.58 L543.34 177.19 L543.36 177.81 L543.39 178.43 L543.41 179.04 L543.43 179.66 L543.45 180.27 L543.48 180.89 L543.50 181.50 L543.52 182.11 L543.55 182.72 L543.57 183.33 L543.60 183.93 L543.62 184.54 L543.65 185.15 L543.67 185.76 L543.70 186.36 L543.73 186.97 L543.75 187.58 L543.78 188.18 L543.80 188.79 L543.83 189.39 L543.86 190.00 L543.88 190.61 L543.91 191.21 L543.93 191.82 L543.96 192.42 L543.98 193.03 L544.00 193.63 L544.03 194.24 L544.05 194.85 L544.07 195.45 L544.09 196.06 L544.11 196.67 L544.13 197.27 L544.15 197.88 L544.17 198.49 L544.18 199.09 L544.20 199.70 L544.21 200.32 L544.23 200.94 L544.24 201.58 L544.25 202.23 L544.26 202.88 L544.27 203.54 L544.28 204.21 L544.29 204.88 L544.30 205.55 L544.30 206.23 L544.31 206.90 L544.32 207.57 L544.32 208.25 L544.33 208.91 L544.33 209.57 L544.34 210.23 L544.34 210.88 L544.34 211.52 L544.35 212.14 L544.35 212.76 L544.36 213.36 L544.36 213.95 L544.36 214.53 L544.37 215.08 L544.37 215.62 L544.38 216.14 L544.38 216.64 L544.39 217.12 L544.39 217.57 L544.40 218.00 L544.41 218.76 L544.43 219.44 L544.44 220.07 L544.45 220.64 L544.46 221.20 L544.48 221.75 L544.49 222.31 L544.50 222.90" fill="none" stroke="#4257b2" stroke-width="1.2" stroke-linejoin="round"/>
<path d="M333.20 223.00 L333.25 223.62 L333.30 224.25 L333.35 224.88 L333.39 225.51 L333.44 226.14 L333.49 226.77 L333.53 227.40 L333.58 228.03 L333.62 228.66 L333.67 229.29 L333.72 229.92 L333.76 230.55 L333.81 231.18 L333.86 231.80 L333.91 232.43 L333.96 233.05 L334.01 233.67 L334.07 234.28 L334.12 234.89 L334.18 235.50 L334.24 236.10 L334.30 236.70 L334.37 237.34 L334.43 237.97 L334.50 238.61 L334.56 239.25 L334.63 239.88 L334.70 240.51 L334.77 241.14 L334.84 241.77 L334.91 242.39 L334.98 243.01 L335.06 243.63 L335.14 244.24 L335.22 244.84 L335.31 245.44 L335.40 246.03 L335.49 246.61 L335.59 247.18 L335.69 247.74 L335.80 248.30 L335.94 248.98 L336.07 249.66 L336.20 250.35 L336.34 251.03 L336.48 251.70 L336.63 252.35 L336.79 253.00 L336.95 253.62 L337.13 254.22 L337.32 254.79 L337.53 255.33 L337.76 255.83 L338.00 256.30 L338.41 256.99 L338.86 257.66 L339.34 258.27 L339.84 258.77 L340.37 259.13 L340.90 259.30 L341.39 259.27 L341.91 259.09 L342.45 258.79 L342.99 258.40 L343.53 257.95 L344.03 257.47 L344.50 257.00 L344.89 256.56 L345.25 256.08 L345.59 255.57 L345.91 255.03 L346.22 254.46 L346.52 253.87 L346.81 253.26 L347.11 252.63 L347.40 252.00 L347.63 251.49 L347.86 250.97 L348.08 250.42 L348.30 249.86 L348.51 249.29 L348.72 248.70 L348.93 248.11 L349.13 247.52 L349.34 246.92 L349.53 246.33 L349.73 245.73 L349.92 245.15 L350.11 244.57 L350.30 244.00 L350.50 243.38 L350.70 242.77 L350.90 242.16 L351.09 241.55 L351.27 240.94 L351.46 240.33 L351.64 239.73 L351.81 239.12 L351.99 238.52 L352.16 237.91 L352.33 237.31 L352.50 236.70 L352.66 236.10 L352.81 235.49 L352.95 234.88 L353.09 234.26 L353.23 233.65 L353.36 233.04 L353.50 232.43 L353.64 231.83 L353.79 231.23 L353.95 230.65 L354.12 230.07 L354.30 229.50 L354.51 228.88 L354.73 228.27 L354.95 227.66 L355.18 227.06 L355.42 226.47 L355.67 225.90 L355.93 225.33 L356.20 224.77 L356.49 224.23 L356.80 223.70 L357.14 223.16 L357.49 222.63 L357.85 222.12 L358.23 221.62 L358.63 221.14 L359.04 220.66 L359.47 220.20 L359.93 219.75 L360.40 219.30 L360.86 218.90 L361.34 218.51 L361.84 218.12 L362.36 217.74 L362.90 217.36 L363.44 217.00 L364.00 216.65 L364.55 216.31 L365.11 215.99 L365.66 215.69 L366.20 215.40 L366.81 215.09 L367.44 214.80 L368.08 214.52 L368.73 214.26 L369.36 214.02 L369.99 213.80 L370.59 213.61 L371.16 213.44 L371.70 213.30 L372.44 213.14 L373.09 213.03 L373.75 212.98 L374.50 213.00 L375.05 213.04 L375.65 213.10 L376.29 213.18 L376.95 213.28 L377.62 213.42 L378.30 213.58 L378.96 213.78 L379.60 214.02 L380.20 214.30 L380.71 214.59 L381.22 214.93 L381.72 215.30 L382.21 215.71 L382.69 216.14 L383.16 216.59 L383.62 217.05 L384.06 217.52 L384.49 217.99 L384.91 218.45 L385.30 218.90 L385.71 219.38 L386.09 219.86 L386.45 220.35 L386.79 220.84 L387.12 221.33 L387.44 221.84 L387.76 222.35 L388.08 222.87 L388.40 223.40 L388.71 223.92 L389.01 224.45 L389.30 224.98 L389.58 225.52 L389.87 226.07 L390.15 226.63 L390.44 227.20 L390.75 227.78 L391.07 228.38 L391.40 229.00 L391.67 229.49 L391.95 229.99 L392.24 230.51 L392.54 231.04 L392.84 231.58 L393.16 232.14 L393.48 232.70 L393.80 233.26 L394.12 233.83 L394.44 234.40 L394.77 234.96 L395.09 235.53 L395.40 236.08 L395.71 236.63 L396.02 237.17 L396.31 237.69 L396.60 238.20 L396.94 238.80 L397.28 239.40 L397.61 239.98 L397.94 240.56 L398.27 241.13 L398.59 241.69 L398.90 242.25 L399.21 242.80 L399.52 243.35 L399.82 243.90 L400.11 244.45 L400.40 245.00 L400.70 245.59 L400.97 246.17 L401.22 246.74 L401.46 247.30 L401.71 247.86 L401.96 248.43 L402.23 249.00 L402.52 249.58 L402.84 250.18 L403.20 250.80 L403.48 251.25 L403.77 251.72 L404.08 252.20 L404.40 252.69 L404.73 253.19 L405.07 253.69 L405.43 254.20 L405.79 254.71 L406.17 255.23 L406.55 255.75 L406.94 256.26 L407.34 256.78 L407.74 257.29 L408.16 257.79 L408.57 258.29 L409.00 258.79 L409.43 259.27 L409.86 259.74 L410.30 260.20 L410.73 260.63 L411.18 261.07 L411.64 261.51 L412.12 261.95 L412.61 262.39 L413.12 262.83 L413.63 263.27 L414.15 263.70 L414.67 264.13 L415.19 264.55 L415.72 264.96 L416.24 265.37 L416.76 265.76 L417.27 266.14 L417.77 266.51 L418.26 266.87 L418.74 267.21 L419.21 267.54 L419.66 267.84 L420.09 268.13 L420.50 268.40 L421.13 268.79 L421.72 269.14 L422.27 269.44 L422.81 269.72 L423.35 269.97 L423.88 270.21 L424.43 270.45 L425.00 270.70 L425.61 270.96 L426.23 271.22 L426.86 271.46 L427.49 271.70 L428.13 271.93 L428.76 272.14 L429.38 272.33 L430.00 272.50 L430.63 272.65 L431.24 272.79 L431.86 272.90 L432.47 273.00 L433.08 273.08 L433.69 273.15 L434.30 273.20 L434.90 273.23 L435.51 273.24 L436.11 273.24 L436.71 273.22 L437.31 273.19 L437.91 273.15 L438.50 273.10 L439.17 273.04 L439.85 272.98 L440.52 272.90 L441.18 272.80 L441.81 272.67 L442.40 272.50 L443.10 272.22 L443.74 271.89 L444.36 271.51 L445.00 271.10 L445.52 270.76 L446.06 270.39 L446.60 270.00 L447.15 269.60 L447.68 269.20 L448.20 268.80 L448.68 268.42 L449.15 268.05 L449.61 267.67 L450.07 267.29 L450.53 266.90 L451.00 266.50 L451.49 266.08 L451.97 265.67 L452.45 265.25 L452.94 264.81 L453.45 264.33 L454.00 263.80 L454.36 263.43 L454.74 263.04 L455.13 262.63 L455.53 262.19 L455.93 261.74 L456.35 261.28 L456.77 260.81 L457.20 260.32 L457.64 259.83 L458.07 259.34 L458.51 258.85 L458.94 258.36 L459.37 257.88 L459.80 257.40 L460.20 256.96 L460.60 256.52 L461.00 256.08 L461.41 255.64 L461.82 255.20 L462.23 254.75 L462.64 254.30 L463.05 253.85 L463.47 253.40 L463.88 252.95 L464.29 252.50 L464.70 252.04 L465.10 251.58 L465.51 251.12 L465.91 250.66 L466.30 250.20 L466.69 249.73 L467.09 249.27 L467.48 248.80 L467.87 248.33 L468.26 247.86 L468.65 247.39 L469.03 246.92 L469.41 246.45 L469.80 245.97 L470.18 245.49 L470.55 245.00 L470.93 244.51 L471.30 244.02 L471.67 243.52 L472.04 243.01 L472.40 242.50 L472.74 242.01 L473.08 241.51 L473.43 241.01 L473.77 240.49 L474.11 239.97 L474.45 239.45 L474.79 238.92 L475.12 238.39 L475.45 237.86 L475.78 237.32 L476.11 236.79 L476.42 236.26 L476.74 235.74 L477.04 235.22 L477.34 234.70 L477.64 234.19 L477.92 233.69 L478.20 233.20 L478.51 232.63 L478.81 232.07 L479.10 231.51 L479.38 230.95 L479.65 230.40 L479.91 229.85 L480.17 229.31 L480.43 228.78 L480.68 228.25 L480.93 227.72 L481.18 227.21 L481.44 226.70 L481.70 226.20 L482.02 225.58 L482.33 224.97 L482.63 224.36 L482.93 223.77 L483.24 223.19 L483.55 222.62 L483.88 222.06 L484.23 221.52 L484.60 221.00 L484.99 220.51 L485.39 220.03 L485.80 219.56 L486.23 219.11 L486.67 218.67 L487.13 218.24 L487.61 217.82 L488.09 217.41 L488.60 217.00 L489.07 216.64 L489.56 216.29 L490.06 215.94 L490.58 215.59 L491.11 215.26 L491.65 214.93 L492.19 214.62 L492.74 214.32 L493.30 214.03 L493.85 213.76 L494.40 213.50 L495.00 213.24 L495.61 213.00 L496.24 212.77 L496.87 212.56 L497.50 212.36 L498.13 212.18 L498.75 212.01 L499.36 211.86 L499.94 211.72 L500.50 211.60 L501.18 211.46 L501.84 211.33 L502.48 211.23 L503.09 211.17 L503.70 211.16 L504.30 211.20 L504.97 211.32 L505.63 211.51 L506.28 211.76 L506.90 212.06 L507.50 212.40 L508.00 212.74 L508.46 213.13 L508.91 213.56 L509.36 214.02 L509.81 214.50 L510.30 215.00 L510.70 215.39 L511.11 215.80 L511.54 216.23 L511.99 216.67 L512.43 217.13 L512.87 217.59 L513.31 218.06 L513.73 218.54 L514.13 219.02 L514.50 219.50 L514.87 220.01 L515.21 220.52 L515.54 221.03 L515.85 221.54 L516.16 222.07 L516.46 222.61 L516.76 223.18 L517.07 223.77 L517.40 224.40 L517.64 224.87 L517.89 225.36 L518.13 225.86 L518.38 226.38 L518.63 226.92 L518.89 227.46 L519.14 228.02 L519.40 228.59 L519.65 229.16 L519.91 229.74 L520.17 230.32 L520.43 230.91 L520.68 231.49 L520.94 232.07 L521.19 232.65 L521.45 233.23 L521.70 233.80 L521.95 234.36 L522.19 234.91 L522.44 235.47 L522.68 236.04 L522.93 236.60 L523.17 237.17 L523.42 237.73 L523.66 238.30 L523.91 238.87 L524.15 239.44 L524.40 240.01 L524.64 240.59 L524.88 241.16 L525.13 241.73 L525.37 242.30 L525.61 242.87 L525.86 243.43 L526.10 244.00 L526.34 244.57 L526.59 245.14 L526.83 245.72 L527.08 246.30 L527.33 246.89 L527.58 247.47 L527.82 248.06 L528.07 248.65 L528.32 249.23 L528.56 249.81 L528.80 250.38 L529.04 250.94 L529.28 251.50 L529.51 252.05 L529.74 252.58 L529.97 253.10 L530.19 253.61 L530.40 254.10 L530.68 254.76 L530.96 255.41 L531.22 256.05 L531.48 256.68 L531.73 257.28 L531.98 257.86 L532.23 258.42 L532.49 258.95 L532.74 259.44 L533.00 259.90 L533.44 260.66 L533.87 261.38 L534.31 261.93 L534.80 262.20 L535.33 262.13 L535.91 261.80 L536.49 261.30 L537.00 260.70 L537.26 260.30 L537.50 259.84 L537.71 259.33 L537.91 258.76 L538.10 258.16 L538.27 257.52 L538.44 256.86 L538.60 256.18 L538.76 255.49 L538.93 254.79 L539.10 254.10 L539.23 253.57 L539.36 253.02 L539.49 252.45 L539.61 251.87 L539.74 251.27 L539.86 250.66 L539.98 250.04 L540.10 249.41 L540.22 248.78 L540.33 248.14 L540.45 247.50 L540.56 246.86 L540.67 246.22 L540.78 245.58 L540.89 244.95 L540.99 244.32 L541.10 243.71 L541.20 243.10 L541.30 242.50 L541.40 241.89 L541.50 241.28 L541.60 240.67 L541.69 240.07 L541.78 239.47 L541.87 238.87 L541.95 238.28 L542.04 237.68 L542.12 237.09 L542.20 236.50 L542.29 235.91 L542.37 235.32 L542.45 234.74 L542.54 234.15 L542.62 233.57 L542.71 232.98 L542.80 232.40 L542.90 231.76 L543.00 231.13 L543.10 230.50 L543.20 229.87 L543.30 229.24 L543.40 228.62 L543.50 227.99 L543.60 227.37 L543.70 226.74 L543.80 226.12 L543.90 225.50 L544.00 224.87 L544.10 224.25 L544.20 223.63 L544.30 223.00" fill="none" stroke="#ee2a30" stroke-width="1.2" stroke-linejoin="round"/>
<circle cx="541.9" cy="144.4" r="1.45" fill="#fff" stroke="#4257b2" stroke-width="1.05"/>
<circle cx="542.8" cy="163.0" r="1.45" fill="#fff" stroke="#4257b2" stroke-width="1.05"/>
<circle cx="543.5" cy="181.5" r="1.45" fill="#fff" stroke="#4257b2" stroke-width="1.05"/>
<circle cx="544.2" cy="199.7" r="1.45" fill="#fff" stroke="#4257b2" stroke-width="1.05"/>
<circle cx="544.4" cy="218.0" r="1.45" fill="#fff" stroke="#4257b2" stroke-width="1.05"/>
<path d="M333.50 222.90 L333.51 222.30 L333.52 221.69 L333.52 221.08 L333.53 220.47 L333.54 219.85 L333.55 219.23 L333.55 218.61 L333.56 217.99 L333.57 217.37 L333.57 216.75 L333.58 216.13 L333.59 215.50 L333.59 214.88 L333.60 214.26 L333.61 213.63 L333.62 213.01 L333.62 212.39 L333.63 211.77 L333.64 211.15 L333.64 210.53 L333.65 209.91 L333.66 209.30 L333.67 208.69 L333.67 208.08 L333.68 207.48 L333.69 206.87 L333.70 206.28 L333.71 205.68 L333.71 205.09 L333.72 204.50 L333.73 203.92 L333.74 203.35 L333.75 202.77 L333.76 202.21 L333.77 201.65 L333.78 201.09 L333.79 200.54 L333.80 200.00 L333.81 199.35 L333.83 198.71 L333.84 198.09 L333.86 197.48 L333.87 196.88 L333.89 196.29 L333.90 195.72 L333.92 195.15 L333.93 194.58 L333.95 194.02 L333.97 193.46 L333.98 192.90 L334.00 192.34 L334.01 191.78 L334.03 191.22 L334.05 190.65 L334.07 190.07 L334.08 189.48 L334.10 188.89 L334.12 188.28 L334.13 187.66 L334.15 187.02 L334.17 186.37 L334.18 185.69 L334.20 185.00 L334.21 184.50 L334.22 183.98 L334.23 183.46 L334.24 182.92 L334.25 182.37 L334.26 181.81 L334.27 181.25 L334.28 180.67 L334.29 180.09 L334.30 179.50 L334.31 178.90 L334.31 178.29 L334.32 177.68 L334.33 177.06 L334.34 176.44 L334.34 175.81 L334.35 175.18 L334.36 174.54 L334.37 173.90 L334.38 173.25 L334.38 172.61 L334.39 171.96 L334.40 171.31 L334.41 170.66 L334.42 170.01 L334.43 169.36 L334.44 168.71 L334.45 168.06 L334.46 167.41 L334.47 166.76 L334.48 166.12 L334.49 165.48 L334.50 164.84 L334.51 164.21 L334.53 163.58 L334.54 162.96 L334.55 162.34 L334.57 161.72 L334.58 161.12 L334.60 160.52 L334.61 159.92 L334.63 159.34 L334.65 158.76 L334.67 158.19 L334.69 157.64 L334.71 157.09 L334.73 156.55 L334.75 156.02 L334.78 155.50 L334.80 155.00 L334.84 154.30 L334.87 153.61 L334.91 152.94 L334.95 152.29 L334.99 151.65 L335.04 151.02 L335.08 150.40 L335.13 149.80 L335.17 149.20 L335.22 148.61 L335.27 148.02 L335.32 147.44 L335.37 146.86 L335.42 146.29 L335.47 145.72 L335.52 145.15 L335.57 144.57 L335.63 144.00 L335.68 143.42 L335.73 142.83 L335.79 142.24 L335.84 141.65 L335.89 141.04 L335.95 140.43 L336.00 139.80 L336.05 139.20 L336.10 138.60 L336.15 137.98 L336.20 137.35 L336.25 136.71 L336.30 136.07 L336.36 135.42 L336.41 134.76 L336.46 134.11 L336.51 133.45 L336.57 132.78 L336.62 132.12 L336.68 131.46 L336.73 130.80 L336.78 130.15 L336.84 129.50 L336.90 128.85 L336.95 128.21 L337.01 127.58 L337.07 126.96 L337.12 126.35 L337.18 125.76 L337.24 125.17 L337.30 124.60 L337.36 124.05 L337.42 123.51 L337.48 122.99 M337.89 119.78 L337.98 119.10 L338.08 118.45 L338.18 117.82 L338.28 117.21 L338.40 116.63 L338.52 116.07 L338.65 115.52 L338.80 115.00 L339.01 114.32 L339.23 113.67 L339.46 113.05 L339.72 112.49 L339.99 112.00 L340.30 111.60 L341.03 111.02 L341.80 110.80 L342.58 111.05 L343.30 111.60 L343.75 112.10 L344.14 112.71 L344.50 113.40 M345.60 116.60 L345.74 116.99 L345.88 117.40 L346.04 117.84 L346.21 118.30 L346.38 118.79 L346.57 119.30 L346.76 119.83 L346.96 120.38 L347.16 120.94 L347.37 121.52 L347.59 122.11 L347.81 122.72 L348.03 123.33 L348.25 123.95 L348.47 124.57 L348.70 125.20 L348.92 125.84 L349.14 126.47 L349.36 127.11 L349.58 127.74 L349.79 128.36 L350.00 128.98 L350.20 129.60 L350.40 130.20 M351.44 133.53 L351.62 134.10 L351.79 134.66 L351.96 135.24 L352.13 135.81 L352.30 136.38 L352.47 136.96 L352.64 137.54 L352.81 138.12 L352.98 138.70 L353.14 139.29 L353.31 139.87 L353.48 140.46 L353.65 141.04 L353.81 141.63 L353.98 142.22 L354.14 142.80 L354.31 143.39 L354.48 143.98 L354.64 144.56 L354.81 145.15 L354.97 145.73 L355.14 146.32 L355.30 146.90 M356.28 150.46 L356.44 151.06 L356.60 151.66 L356.76 152.25 L356.92 152.85 L357.08 153.45 L357.24 154.05 L357.40 154.65 L357.56 155.25 L357.72 155.85 L357.88 156.45 L358.04 157.05 L358.20 157.65 L358.36 158.24 L358.52 158.84 L358.68 159.44 L358.84 160.04 L359.00 160.64 L359.17 161.23 L359.33 161.83 L359.50 162.42 L359.66 163.02 L359.83 163.61 L360.00 164.20 M360.87 167.11 L361.05 167.68 L361.23 168.26 L361.42 168.84 L361.60 169.41 L361.79 169.99 L361.97 170.56 L362.16 171.14 L362.34 171.71 L362.53 172.29 L362.71 172.86 L362.89 173.44 L363.08 174.01 L363.26 174.59 L363.44 175.17 L363.62 175.75 L363.79 176.32 L363.97 176.90 L364.14 177.48 L364.31 178.07 L364.47 178.65 L364.63 179.23 L364.79 179.82 L364.95 180.41 L365.10 181.00 M365.78 184.00 L365.91 184.61 L366.03 185.23 L366.15 185.85 L366.26 186.48 L366.38 187.10 L366.49 187.73 L366.61 188.36 L366.72 188.99 L366.83 189.61 L366.94 190.23 L367.04 190.85 L367.15 191.47 L367.26 192.08 L367.37 192.69 L367.48 193.29 L367.59 193.88 L367.71 194.47 L367.82 195.05 L367.94 195.62 L368.06 196.18 L368.18 196.72 L368.31 197.26 L368.43 197.79 L368.56 198.30 L368.70 198.80 M369.67 202.00 L369.87 202.59 L370.07 203.18 L370.27 203.75 L370.48 204.31 L370.69 204.87 L370.90 205.41 L371.12 205.94 L371.33 206.47 L371.55 206.99 L371.78 207.50 L372.00 208.00 L372.27 208.60 L372.54 209.20 L372.81 209.79 L373.09 210.38 L373.37 210.95 L373.65 211.49 L373.94 212.02 L374.24 212.52 L374.55 212.98 L374.87 213.41 L375.20 213.80 M378.20 215.80 L378.66 216.05 L379.16 216.31 L379.68 216.57 L380.23 216.84 L380.80 217.11 L381.38 217.38 L381.98 217.64 L382.59 217.90 L383.19 218.15 L383.80 218.38 L384.41 218.60 L385.00 218.80 L385.59 218.99 L386.17 219.16 L386.74 219.31 L387.31 219.46 L387.88 219.59 L388.47 219.72 L389.06 219.84 L389.68 219.96 L390.31 220.07 L390.98 220.18 L391.67 220.29 L392.40 220.40 M395.60 220.82 L396.18 220.88 L396.77 220.94 L397.37 221.01 L397.98 221.07 L398.60 221.12 L399.23 221.18 L399.86 221.24 L400.50 221.29 L401.15 221.35 L401.80 221.40 L402.46 221.45 L403.12 221.50 L403.78 221.54 L404.44 221.59 L405.10 221.63 L405.77 221.68 L406.43 221.72 L407.09 221.76 L407.75 221.80 L408.40 221.83 L409.05 221.87 L409.70 221.90 M412.69 222.02 L413.29 222.04 L413.90 222.06 L414.51 222.07 L415.12 222.09 L415.73 222.10 L416.35 222.11 L416.97 222.12 L417.58 222.13 L418.20 222.14 L418.82 222.15 L419.44 222.15 L420.07 222.16 L420.69 222.16 L421.31 222.17 L421.94 222.17 L422.56 222.17 L423.18 222.17 L423.81 222.18 L424.43 222.18 L425.05 222.18 L425.67 222.18 L426.30 222.18 L426.92 222.18 L427.54 222.19 M430.61 222.20 L431.22 222.21 L431.83 222.21 L432.45 222.21 L433.06 222.22 L433.68 222.22 L434.30 222.22 L434.91 222.22 L435.53 222.22 L436.15 222.23 L436.77 222.23 L437.39 222.23 L438.00 222.23 L438.62 222.23 L439.24 222.23 L439.85 222.23 L440.47 222.23 L441.08 222.22 L441.69 222.22 L442.30 222.22 L442.91 222.22 L443.52 222.22 L444.12 222.22 L444.72 222.22 M447.69 222.21 L448.27 222.21 L448.85 222.20 L449.43 222.20 L450.00 222.20 L450.64 222.20 L451.28 222.20 L451.92 222.19 L452.56 222.19 L453.20 222.19 L453.84 222.19 L454.47 222.18 L455.10 222.18 L455.74 222.18 L456.36 222.18 L456.99 222.17 L457.61 222.17 L458.22 222.17 L458.84 222.16 L459.44 222.16 L460.05 222.16 L460.64 222.15 L461.23 222.15 L461.82 222.14 L462.39 222.14 M465.70 222.10 L466.39 222.09 L467.08 222.08 L467.75 222.07 L468.41 222.06 L469.05 222.05 L469.69 222.04 L470.32 222.02 L470.94 222.01 L471.54 222.00 L472.14 221.98 L472.73 221.97 L473.31 221.95 L473.88 221.94 L474.44 221.92 L475.00 221.90 L475.66 221.88 L476.30 221.86 L476.94 221.84 L477.55 221.82 L478.16 221.80 L478.75 221.78 L479.33 221.75 L479.90 221.71 L480.46 221.66 M484.38 220.98 L485.00 220.80 L485.64 220.58 L486.26 220.34 L486.85 220.07 L487.43 219.79 L488.00 219.50 L488.66 219.13 L489.30 218.75 L489.92 218.34 L490.50 217.90 L491.01 217.46 L491.49 217.00 L491.95 216.52 L492.40 216.00 L492.80 215.51 L493.19 214.99 L493.58 214.44 L493.95 213.88 L494.30 213.30 L494.58 212.79 L494.84 212.29 M496.34 209.05 L496.57 208.53 L496.82 207.98 L497.07 207.41 L497.33 206.83 L497.59 206.24 L497.86 205.64 L498.12 205.04 L498.39 204.44 L498.65 203.86 L498.91 203.28 L499.16 202.73 L499.40 202.20 L499.69 201.58 L499.98 200.97 L500.26 200.37 L500.54 199.79 L500.82 199.21 L501.10 198.64 L501.37 198.06 L501.65 197.48 L501.92 196.90 M503.23 194.10 L503.49 193.55 L503.74 193.00 L504.00 192.43 L504.25 191.86 L504.50 191.26 L504.75 190.64 L505.00 190.00 L505.19 189.49 L505.38 188.96 L505.56 188.43 L505.75 187.89 L505.93 187.34 L506.11 186.78 L506.29 186.21 L506.47 185.63 L506.65 185.04 L506.83 184.44 L507.01 183.84 L507.19 183.23 L507.37 182.61 L507.55 181.98 L507.74 181.35 L507.92 180.70 L508.11 180.06 L508.30 179.40 M509.09 176.55 L509.25 175.94 L509.41 175.32 L509.58 174.69 L509.74 174.06 L509.91 173.42 L510.08 172.77 L510.24 172.12 L510.41 171.48 L510.57 170.83 L510.74 170.18 L510.91 169.54 L511.07 168.90 L511.24 168.27 L511.40 167.64 L511.56 167.03 L511.72 166.42 L511.88 165.83 L512.04 165.25 L512.20 164.68 L512.35 164.13 L512.50 163.60 L512.65 163.09 L512.80 162.60 M513.85 159.52 L514.05 158.97 L514.25 158.42 L514.45 157.88 L514.65 157.34 L514.84 156.79 L515.03 156.22 L515.22 155.62 L515.40 155.00 L515.55 154.46 L515.69 153.91 L515.82 153.36 L515.95 152.80 L516.08 152.23 L516.20 151.66 L516.32 151.08 L516.44 150.50 L516.55 149.91 L516.67 149.31 L516.80 148.71 L516.92 148.11 L517.05 147.50 M517.80 144.40 L517.95 143.84 L518.11 143.28 L518.28 142.70 L518.45 142.11 L518.62 141.52 L518.80 140.92 L518.98 140.32 L519.16 139.71 L519.35 139.10 L519.54 138.49 L519.74 137.87 L519.93 137.26 L520.13 136.64 L520.33 136.03 L520.53 135.42 L520.74 134.81 L520.94 134.21 L521.15 133.61 L521.36 133.02 L521.57 132.44 L521.78 131.86 L521.98 131.30 L522.19 130.74 L522.40 130.20 M523.42 127.77 L523.68 127.17 L523.95 126.59 L524.22 126.01 L524.50 125.43 L524.77 124.86 L525.04 124.30 L525.31 123.74 L525.57 123.19 L525.83 122.64 L526.08 122.10 L526.32 121.57 L526.56 121.04 L526.79 120.52 L527.00 120.00 L527.24 119.37 L527.46 118.73 L527.67 118.08 L527.86 117.44 L528.04 116.81 L528.22 116.19 L528.41 115.59 L528.60 115.02 L528.80 114.48 L529.01 113.98 L529.24 113.51 L529.50 113.10 M532.00 111.00 L532.71 110.78 L533.42 110.70 L534.10 110.80 L534.61 111.01 L535.10 111.34 L535.57 111.77 L536.00 112.30 L536.25 112.70 L536.49 113.17 L536.70 113.69 L536.91 114.25 L537.10 114.85 L537.29 115.48 L537.47 116.11 L537.65 116.75 L537.82 117.38 L538.00 118.00 L538.16 118.55 L538.32 119.09 L538.47 119.63 L538.62 120.17 L538.76 120.72 L538.90 121.28 L539.04 121.85 L539.18 122.43 L539.31 123.04 L539.44 123.67 L539.57 124.32 L539.70 125.00 L539.79 125.49 L539.87 126.01 L539.96 126.53 L540.04 127.07 L540.12 127.63 L540.20 128.20 L540.28 128.78 L540.35 129.37 L540.43 129.97 L540.51 130.58 L540.58 131.20 L540.65 131.82 L540.72 132.45 L540.79 133.09 L540.86 133.72 L540.93 134.36 L541.00 135.00 L541.06 135.64 L541.13 136.27 L541.19 136.91 L541.25 137.54 L541.32 138.16 L541.38 138.78 L541.44 139.40 L541.50 140.00 L541.56 140.60 L541.62 141.18 L541.67 141.77 L541.73 142.34 L541.78 142.92 L541.84 143.48 L541.89 144.05 L541.94 144.62 L541.99 145.18 L542.04 145.75 L542.09 146.32 L542.14 146.89 L542.19 147.46 L542.23 148.04 L542.28 148.63 L542.32 149.22 L542.37 149.82 L542.41 150.42 L542.45 151.04 L542.50 151.67 L542.54 152.31 L542.58 152.96 L542.62 153.62 L542.66 154.30 L542.70 155.00 L542.73 155.50 L542.76 156.01 L542.78 156.54 L542.81 157.07 L542.83 157.61 L542.86 158.16 L542.89 158.72 L542.91 159.28 L542.93 159.86 L542.96 160.44 L542.98 161.02 L543.01 161.62 L543.03 162.22 L543.05 162.82 L543.07 163.43 L543.10 164.05 L543.12 164.67 L543.14 165.29 L543.16 165.92 L543.18 166.55 L543.20 167.18 L543.22 167.82 L543.24 168.45 L543.26 169.09 L543.28 169.73 L543.30 170.37 L543.32 171.02 L543.33 171.66 L543.35 172.30 L543.37 172.94 L543.39 173.58 L543.41 174.22 L543.42 174.85 L543.44 175.49 L543.46 176.12 L543.47 176.75 L543.49 177.37 L543.51 177.99 L543.52 178.61 L543.54 179.22 L543.56 179.83 L543.57 180.43 L543.59 181.03 L543.60 181.62 L543.62 182.20 L543.64 182.77 L543.65 183.34 L543.67 183.90 L543.68 184.46 L543.70 185.00 L543.72 185.66 L543.74 186.32 L543.76 186.97 L543.78 187.62 L543.79 188.26 L543.81 188.90 L543.83 189.53 L543.85 190.15 L543.86 190.78 L543.88 191.39 L543.89 192.01 L543.91 192.62 L543.93 193.22 L543.94 193.83 L543.96 194.43 L543.97 195.02 L543.99 195.62 L544.00 196.21 L544.02 196.80 L544.03 197.39 L544.04 197.98 L544.06 198.56 L544.07 199.15 L544.08 199.73 L544.10 200.32 L544.11 200.90 L544.12 201.49 L544.14 202.07 L544.15 202.65 L544.16 203.24 L544.18 203.82 L544.19 204.41 L544.20 205.00 L544.21 205.63 L544.23 206.26 L544.24 206.89 L544.25 207.52 L544.26 208.14 L544.27 208.77 L544.28 209.39 L544.29 210.01 L544.31 210.63 L544.32 211.25 L544.33 211.86 L544.34 212.48 L544.35 213.09 L544.36 213.71 L544.37 214.32 L544.37 214.93 L544.38 215.54 L544.39 216.15 L544.40 216.77 L544.41 217.38 L544.42 217.99 L544.43 218.60 L544.44 219.21 L544.45 219.83 L544.46 220.44 L544.47 221.05 L544.48 221.67 L544.49 222.28 L544.50 222.90" fill="none" stroke="#151515" stroke-width="1.3" stroke-linejoin="round"/>
<circle cx="333.5" cy="212.3" r="1.45" fill="#fff" stroke="#4257b2" stroke-width="1.05"/>
<circle cx="333.9" cy="193.2" r="1.45" fill="#fff" stroke="#4257b2" stroke-width="1.05"/>
<circle cx="334.6" cy="174.9" r="1.45" fill="#fff" stroke="#4257b2" stroke-width="1.05"/>
<circle cx="335.5" cy="156.8" r="1.45" fill="#fff" stroke="#4257b2" stroke-width="1.05"/>
<circle cx="336.9" cy="138.3" r="1.45" fill="#fff" stroke="#4257b2" stroke-width="1.05"/>
<circle cx="338.9" cy="120.3" r="1.45" fill="#fff" stroke="#4257b2" stroke-width="1.05"/>
<circle cx="342.5" cy="101.7" r="1.45" fill="#fff" stroke="#4257b2" stroke-width="1.05"/>
<circle cx="352.4" cy="109.3" r="1.45" fill="#fff" stroke="#4257b2" stroke-width="1.05"/>
<circle cx="358.0" cy="127.3" r="1.45" fill="#fff" stroke="#4257b2" stroke-width="1.05"/>
<circle cx="363.8" cy="144.9" r="1.45" fill="#fff" stroke="#4257b2" stroke-width="1.05"/>
<circle cx="367.9" cy="163.0" r="1.45" fill="#fff" stroke="#4257b2" stroke-width="1.05"/>
<circle cx="373.6" cy="180.7" r="1.45" fill="#fff" stroke="#4257b2" stroke-width="1.05"/>
<circle cx="378.7" cy="198.7" r="1.45" fill="#fff" stroke="#4257b2" stroke-width="1.05"/>
<circle cx="384.3" cy="216.1" r="1.45" fill="#fff" stroke="#4257b2" stroke-width="1.05"/>
<circle cx="389.4" cy="233.7" r="1.45" fill="#fff" stroke="#4257b2" stroke-width="1.05"/>
<circle cx="395.8" cy="251.5" r="1.45" fill="#fff" stroke="#4257b2" stroke-width="1.05"/>
<circle cx="406.4" cy="266.5" r="1.45" fill="#fff" stroke="#4257b2" stroke-width="1.05"/>
<circle cx="423.8" cy="272.6" r="1.45" fill="#fff" stroke="#4257b2" stroke-width="1.05"/>
<circle cx="442.1" cy="274.4" r="1.45" fill="#fff" stroke="#4257b2" stroke-width="1.05"/>
<circle cx="459.7" cy="269.4" r="1.45" fill="#fff" stroke="#4257b2" stroke-width="1.05"/>
<circle cx="473.1" cy="256.5" r="1.45" fill="#fff" stroke="#4257b2" stroke-width="1.05"/>
<circle cx="480.1" cy="239.4" r="1.45" fill="#fff" stroke="#4257b2" stroke-width="1.05"/>
<circle cx="486.7" cy="222.1" r="1.45" fill="#fff" stroke="#4257b2" stroke-width="1.05"/>
<circle cx="492.3" cy="204.5" r="1.45" fill="#fff" stroke="#4257b2" stroke-width="1.05"/>
<circle cx="497.9" cy="187.0" r="1.45" fill="#fff" stroke="#4257b2" stroke-width="1.05"/>
<circle cx="503.9" cy="169.2" r="1.45" fill="#fff" stroke="#4257b2" stroke-width="1.05"/>
<circle cx="509.9" cy="152.0" r="1.45" fill="#fff" stroke="#4257b2" stroke-width="1.05"/>
<circle cx="515.6" cy="134.2" r="1.45" fill="#fff" stroke="#4257b2" stroke-width="1.05"/>
<circle cx="521.4" cy="116.4" r="1.45" fill="#fff" stroke="#4257b2" stroke-width="1.05"/>
<circle cx="528.0" cy="99.3" r="1.45" fill="#fff" stroke="#4257b2" stroke-width="1.05"/>
<circle cx="538.1" cy="107.5" r="1.45" fill="#fff" stroke="#4257b2" stroke-width="1.05"/>
<circle cx="540.7" cy="125.6" r="1.45" fill="#fff" stroke="#4257b2" stroke-width="1.05"/>
<line x1="386.5" y1="52.5" x2="402.1" y2="52.5" stroke="#151515" stroke-width="1.15"/>
<line x1="405.1" y1="52.5" x2="419.7" y2="52.5" stroke="#151515" stroke-width="1.15"/>
<line x1="422.7" y1="52.5" x2="437.6" y2="52.5" stroke="#151515" stroke-width="1.15"/>
<line x1="386.5" y1="68.4" x2="437.6" y2="68.4" stroke="#ee2a30" stroke-width="1.1"/>
<line x1="386.5" y1="84.5" x2="437.6" y2="84.5" stroke="#4257b2" stroke-width="1.1"/>
<circle cx="396.5" cy="84.5" r="1.45" fill="#fff" stroke="#4257b2" stroke-width="1.05"/>
<circle cx="415" cy="84.5" r="1.45" fill="#fff" stroke="#4257b2" stroke-width="1.05"/>
<text x="448.4" y="56.8" font-size="14.4" text-anchor="start" font-family="&quot;Liberation Sans&quot;, sans-serif" fill="#111" stroke="#111" stroke-width="0.2" >SLJ</text>
<text x="448.4" y="73.3" font-size="14.4" text-anchor="start" font-family="&quot;Liberation Sans&quot;, sans-serif" fill="#111" stroke="#111" stroke-width="0.2" >RWJ</text>
<text x="448.4" y="90.7" font-size="14.4" text-anchor="start" font-family="&quot;Liberation Sans&quot;, sans-serif" fill="#111" stroke="#111" stroke-width="0.2" >SWL</text>
<text x="323.1" y="279.4" font-size="14" text-anchor="end" font-family="&quot;Liberation Sans&quot;, sans-serif" fill="#111" stroke="#111" stroke-width="0.2" >-3</text>
<text x="323.1" y="261.9" font-size="14" text-anchor="end" font-family="&quot;Liberation Sans&quot;, sans-serif" fill="#111" stroke="#111" stroke-width="0.2" >-2</text>
<text x="323.1" y="244.5" font-size="14" text-anchor="end" font-family="&quot;Liberation Sans&quot;, sans-serif" fill="#111" stroke="#111" stroke-width="0.2" >-1</text>
<text x="319.2" y="227.7" font-size="14" text-anchor="middle" font-family="&quot;Liberation Sans&quot;, sans-serif" fill="#111" stroke="#111" stroke-width="0.2" >0</text>
<text x="319.2" y="211.3" font-size="14" text-anchor="middle" font-family="&quot;Liberation Sans&quot;, sans-serif" fill="#111" stroke="#111" stroke-width="0.2" >1</text>
<text x="319.2" y="194.9" font-size="14" text-anchor="middle" font-family="&quot;Liberation Sans&quot;, sans-serif" fill="#111" stroke="#111" stroke-width="0.2" >2</text>
<text x="319.2" y="178.4" font-size="14" text-anchor="middle" font-family="&quot;Liberation Sans&quot;, sans-serif" fill="#111" stroke="#111" stroke-width="0.2" >3</text>
<text x="319.2" y="161.8" font-size="14" text-anchor="middle" font-family="&quot;Liberation Sans&quot;, sans-serif" fill="#111" stroke="#111" stroke-width="0.2" >4</text>
<text x="319.2" y="145.2" font-size="14" text-anchor="middle" font-family="&quot;Liberation Sans&quot;, sans-serif" fill="#111" stroke="#111" stroke-width="0.2" >5</text>
<text x="319.2" y="128.4" font-size="14" text-anchor="middle" font-family="&quot;Liberation Sans&quot;, sans-serif" fill="#111" stroke="#111" stroke-width="0.2" >6</text>
<text x="319.2" y="111.8" font-size="14" text-anchor="middle" font-family="&quot;Liberation Sans&quot;, sans-serif" fill="#111" stroke="#111" stroke-width="0.2" >7</text>
<text x="319.2" y="95.1" font-size="14" text-anchor="middle" font-family="&quot;Liberation Sans&quot;, sans-serif" fill="#111" stroke="#111" stroke-width="0.2" >8</text>
<text x="319.2" y="78.2" font-size="14" text-anchor="middle" font-family="&quot;Liberation Sans&quot;, sans-serif" fill="#111" stroke="#111" stroke-width="0.2" >9</text>
<text x="319.2" y="61.2" font-size="14" text-anchor="middle" font-family="&quot;Liberation Sans&quot;, sans-serif" fill="#111" stroke="#111" stroke-width="0.2" >10</text>
<text x="319.2" y="43.7" font-size="14" text-anchor="middle" font-family="&quot;Liberation Sans&quot;, sans-serif" fill="#111" stroke="#111" stroke-width="0.2" >11</text>
<text x="319.2" y="26.5" font-size="14" text-anchor="middle" font-family="&quot;Liberation Sans&quot;, sans-serif" fill="#111" stroke="#111" stroke-width="0.2" >12</text>
<text x="332.5" y="291.7" font-size="14" text-anchor="middle" font-family="&quot;Liberation Sans&quot;, sans-serif" fill="#111" stroke="#111" stroke-width="0.2" >0</text>
<text x="374.7" y="291.7" font-size="14" text-anchor="middle" font-family="&quot;Liberation Sans&quot;, sans-serif" fill="#111" stroke="#111" stroke-width="0.2" >0.2</text>
<text x="416.9" y="291.7" font-size="14" text-anchor="middle" font-family="&quot;Liberation Sans&quot;, sans-serif" fill="#111" stroke="#111" stroke-width="0.2" >0.4</text>
<text x="459.1" y="291.7" font-size="14" text-anchor="middle" font-family="&quot;Liberation Sans&quot;, sans-serif" fill="#111" stroke="#111" stroke-width="0.2" >0.6</text>
<text x="501.3" y="291.7" font-size="14" text-anchor="middle" font-family="&quot;Liberation Sans&quot;, sans-serif" fill="#111" stroke="#111" stroke-width="0.2" >0.8</text>
<text x="543.5" y="291.7" font-size="14" text-anchor="middle" font-family="&quot;Liberation Sans&quot;, sans-serif" fill="#111" stroke="#111" stroke-width="0.2" >1</text>
<text x="358.6" y="314.1" font-size="11.8" text-anchor="start" font-family="&quot;Liberation Sans&quot;, sans-serif" fill="#111" stroke="#111" stroke-width="0.12" textLength="158.7" lengthAdjust="spacingAndGlyphs">Normalised joint distance (x/L)</text>
<text x="436" y="337.7" font-size="15" text-anchor="middle" font-family="&quot;Liberation Sans&quot;, sans-serif" fill="#111" stroke="#111" stroke-width="0.2" >(b)</text>
<text transform="translate(301,142.25) rotate(-90)" font-size="13.7" text-anchor="middle" font-family="&quot;Liberation Sans&quot;, sans-serif" fill="#111" stroke="#111" stroke-width="0.2" textLength="149.8" lengthAdjust="spacingAndGlyphs">Normalised shear stress</text>
</svg>
</body></html>
